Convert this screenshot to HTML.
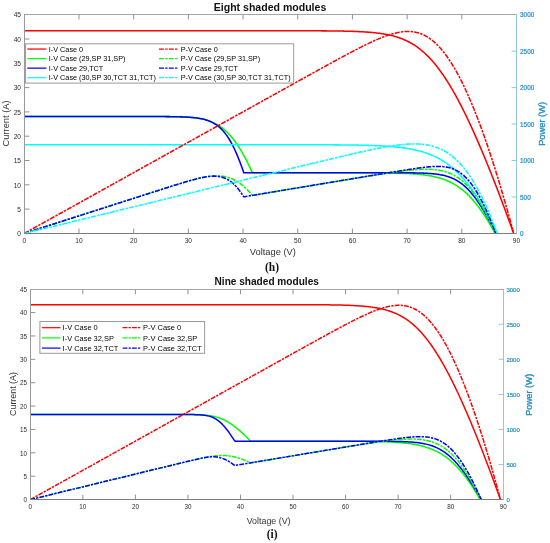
<!DOCTYPE html>
<html lang="en"><head><meta charset="utf-8"><title>Shaded modules I-V and P-V curves</title>
<style>
html,body{margin:0;padding:0;background:#fff;}
body{width:550px;height:543px;overflow:hidden;}
svg{display:block;}
text{white-space:pre;}
</style></head><body>
<svg width="550" height="543" viewBox="0 0 550 543">
<rect width="550" height="543" fill="#fff"/>
<g id="p1">
<g fill="none" stroke-width="1.55" stroke-linejoin="round">
<clipPath id="p1clip"><rect x="23.3" y="13.7" width="494.2" height="220.3"/></clipPath>
<g clip-path="url(#p1clip)">
<path d="M24.30,30.74 L25.39,30.74 L26.48,30.74 L27.57,30.74 L28.66,30.74 L29.75,30.74 L30.84,30.74 L31.93,30.74 L33.02,30.74 L34.11,30.74 L35.20,30.74 L36.29,30.74 L37.38,30.74 L38.47,30.74 L39.56,30.74 L40.65,30.74 L41.74,30.74 L42.83,30.74 L43.92,30.74 L45.01,30.74 L46.10,30.74 L47.19,30.74 L48.28,30.74 L49.37,30.74 L50.46,30.74 L51.55,30.74 L52.64,30.74 L53.73,30.74 L54.82,30.74 L55.91,30.74 L57.00,30.74 L58.09,30.74 L59.18,30.74 L60.27,30.74 L61.36,30.74 L62.45,30.74 L63.54,30.74 L64.63,30.74 L65.72,30.74 L66.81,30.74 L67.90,30.74 L68.99,30.74 L70.07,30.74 L71.16,30.74 L72.25,30.74 L73.34,30.74 L74.43,30.74 L75.52,30.74 L76.61,30.74 L77.70,30.74 L78.79,30.74 L79.88,30.74 L80.97,30.74 L82.06,30.74 L83.15,30.74 L84.24,30.74 L85.33,30.74 L86.42,30.74 L87.51,30.74 L88.60,30.74 L89.69,30.74 L90.78,30.74 L91.87,30.74 L92.96,30.74 L94.05,30.74 L95.14,30.74 L96.23,30.74 L97.32,30.74 L98.41,30.74 L99.50,30.74 L100.59,30.74 L101.68,30.74 L102.77,30.74 L103.86,30.74 L104.95,30.74 L106.04,30.74 L107.13,30.74 L108.22,30.74 L109.31,30.74 L110.40,30.74 L111.49,30.74 L112.58,30.74 L113.67,30.74 L114.76,30.74 L115.85,30.74 L116.94,30.74 L118.03,30.74 L119.12,30.74 L120.21,30.74 L121.30,30.74 L122.39,30.74 L123.48,30.74 L124.57,30.74 L125.66,30.74 L126.75,30.74 L127.84,30.74 L128.93,30.74 L130.02,30.74 L131.11,30.74 L132.20,30.74 L133.29,30.74 L134.38,30.74 L135.47,30.74 L136.56,30.74 L137.65,30.74 L138.74,30.74 L139.83,30.74 L140.92,30.74 L142.01,30.74 L143.10,30.74 L144.19,30.74 L145.28,30.74 L146.37,30.74 L147.46,30.74 L148.55,30.74 L149.64,30.74 L150.73,30.74 L151.82,30.74 L152.91,30.74 L154.00,30.74 L155.09,30.74 L156.18,30.74 L157.27,30.74 L158.36,30.74 L159.45,30.74 L160.54,30.74 L161.62,30.74 L162.71,30.74 L163.80,30.74 L164.89,30.74 L165.98,30.74 L167.07,30.74 L168.16,30.74 L169.25,30.74 L170.34,30.74 L171.43,30.74 L172.52,30.74 L173.61,30.74 L174.70,30.74 L175.79,30.74 L176.88,30.74 L177.97,30.74 L179.06,30.74 L180.15,30.74 L181.24,30.74 L182.33,30.74 L183.42,30.74 L184.51,30.74 L185.60,30.74 L186.69,30.74 L187.78,30.74 L188.87,30.74 L189.96,30.74 L191.05,30.74 L192.14,30.74 L193.23,30.74 L194.32,30.74 L195.41,30.74 L196.50,30.74 L197.59,30.74 L198.68,30.74 L199.77,30.74 L200.86,30.74 L201.95,30.74 L203.04,30.74 L204.13,30.74 L205.22,30.74 L206.31,30.74 L207.40,30.74 L208.49,30.74 L209.58,30.74 L210.67,30.74 L211.76,30.74 L212.85,30.74 L213.94,30.74 L215.03,30.74 L216.12,30.74 L217.21,30.74 L218.30,30.74 L219.39,30.74 L220.48,30.74 L221.57,30.74 L222.66,30.74 L223.75,30.74 L224.84,30.74 L225.93,30.74 L227.02,30.74 L228.11,30.74 L229.20,30.74 L230.29,30.74 L231.38,30.74 L232.47,30.74 L233.56,30.74 L234.65,30.74 L235.74,30.74 L236.83,30.74 L237.92,30.74 L239.01,30.74 L240.10,30.74 L241.19,30.74 L242.28,30.74 L243.37,30.74 L244.46,30.74 L245.55,30.74 L246.64,30.74 L247.73,30.74 L248.82,30.74 L249.91,30.74 L251.00,30.74 L252.08,30.74 L253.17,30.74 L254.26,30.74 L255.35,30.74 L256.44,30.74 L257.53,30.74 L258.62,30.74 L259.71,30.74 L260.80,30.74 L261.89,30.74 L262.98,30.74 L264.07,30.74 L265.16,30.74 L266.25,30.74 L267.34,30.74 L268.43,30.74 L269.52,30.74 L270.61,30.75 L271.70,30.75 L272.79,30.75 L273.88,30.75 L274.97,30.75 L276.06,30.75 L277.15,30.75 L278.24,30.75 L279.33,30.75 L280.42,30.75 L281.51,30.75 L282.60,30.75 L283.69,30.75 L284.78,30.75 L285.87,30.75 L286.96,30.76 L288.05,30.76 L289.14,30.76 L290.23,30.76 L291.32,30.76 L292.41,30.76 L293.50,30.76 L294.59,30.77 L295.68,30.77 L296.77,30.77 L297.86,30.77 L298.95,30.77 L300.04,30.77 L301.13,30.78 L302.22,30.78 L303.31,30.78 L304.40,30.78 L305.49,30.79 L306.58,30.79 L307.67,30.79 L308.76,30.80 L309.85,30.80 L310.94,30.80 L312.03,30.81 L313.12,30.81 L314.21,30.82 L315.30,30.82 L316.39,30.83 L317.48,30.83 L318.57,30.84 L319.66,30.84 L320.75,30.85 L321.84,30.86 L322.93,30.86 L324.02,30.87 L325.11,30.88 L326.20,30.89 L327.29,30.90 L328.38,30.91 L329.47,30.92 L330.56,30.93 L331.65,30.94 L332.74,30.95 L333.83,30.96 L334.92,30.98 L336.01,30.99 L337.10,31.01 L338.19,31.02 L339.28,31.04 L340.37,31.06 L341.46,31.08 L342.54,31.10 L343.63,31.12 L344.72,31.15 L345.81,31.17 L346.90,31.20 L347.99,31.22 L349.08,31.25 L350.17,31.28 L351.26,31.32 L352.35,31.35 L353.44,31.39 L354.53,31.43 L355.62,31.47 L356.71,31.51 L357.80,31.56 L358.89,31.61 L359.98,31.66 L361.07,31.72 L362.16,31.77 L363.25,31.84 L364.34,31.90 L365.43,31.97 L366.52,32.05 L367.61,32.12 L368.70,32.21 L369.79,32.29 L370.88,32.38 L371.97,32.48 L373.06,32.59 L374.15,32.69 L375.24,32.81 L376.33,32.93 L377.42,33.06 L378.51,33.20 L379.60,33.34 L380.69,33.49 L381.78,33.65 L382.87,33.82 L383.96,34.00 L385.05,34.19 L386.14,34.39 L387.23,34.60 L388.32,34.82 L389.41,35.06 L390.50,35.30 L391.59,35.56 L392.68,35.83 L393.77,36.12 L394.86,36.42 L395.95,36.74 L397.04,37.07 L398.13,37.42 L399.22,37.79 L400.31,38.18 L401.40,38.59 L402.49,39.01 L403.58,39.46 L404.67,39.93 L405.76,40.41 L406.85,40.93 L407.94,41.46 L409.03,42.02 L410.12,42.61 L411.21,43.22 L412.30,43.85 L413.39,44.52 L414.48,45.21 L415.57,45.93 L416.66,46.68 L417.75,47.45 L418.84,48.26 L419.93,49.10 L421.02,49.98 L422.11,50.88 L423.20,51.81 L424.29,52.78 L425.38,53.78 L426.47,54.82 L427.56,55.89 L428.65,56.99 L429.74,58.13 L430.83,59.31 L431.92,60.52 L433.01,61.76 L434.09,63.04 L435.18,64.36 L436.27,65.71 L437.36,67.09 L438.45,68.52 L439.54,69.97 L440.63,71.47 L441.72,72.99 L442.81,74.56 L443.90,76.15 L444.99,77.79 L446.08,79.45 L447.17,81.16 L448.26,82.89 L449.35,84.66 L450.44,86.46 L451.53,88.29 L452.62,90.16 L453.71,92.06 L454.80,93.99 L455.89,95.95 L456.98,97.95 L458.07,99.97 L459.16,102.02 L460.25,104.10 L461.34,106.22 L462.43,108.36 L463.52,110.52 L464.61,112.72 L465.70,114.94 L466.79,117.19 L467.88,119.47 L468.97,121.77 L470.06,124.10 L471.15,126.45 L472.24,128.83 L473.33,131.23 L474.42,133.65 L475.51,136.10 L476.60,138.57 L477.69,141.07 L478.78,143.58 L479.87,146.12 L480.96,148.67 L482.05,151.25 L483.14,153.85 L484.23,156.47 L485.32,159.10 L486.41,161.76 L487.50,164.43 L488.59,167.13 L489.68,169.84 L490.77,172.57 L491.86,175.31 L492.95,178.08 L494.04,180.86 L495.13,183.65 L496.22,186.47 L497.31,189.29 L498.40,192.14 L499.49,194.99 L500.58,197.87 L501.67,200.75 L502.76,203.66 L503.85,206.57 L504.94,209.50 L506.03,212.44 L507.12,215.40 L508.21,218.37 L509.30,221.35 L510.39,224.35 L511.48,227.35 L512.57,230.37 L513.66,233.40" stroke="#ff0000"/>
<path d="M24.30,116.52 L25.35,116.52 L26.40,116.52 L27.45,116.52 L28.49,116.52 L29.54,116.52 L30.59,116.52 L31.64,116.52 L32.69,116.52 L33.74,116.52 L34.78,116.52 L35.83,116.52 L36.88,116.52 L37.93,116.52 L38.98,116.52 L40.03,116.52 L41.08,116.52 L42.12,116.52 L43.17,116.52 L44.22,116.52 L45.27,116.52 L46.32,116.52 L47.37,116.52 L48.41,116.52 L49.46,116.52 L50.51,116.52 L51.56,116.52 L52.61,116.52 L53.66,116.52 L54.71,116.52 L55.75,116.52 L56.80,116.52 L57.85,116.52 L58.90,116.52 L59.95,116.52 L61.00,116.52 L62.04,116.52 L63.09,116.52 L64.14,116.52 L65.19,116.52 L66.24,116.52 L67.29,116.52 L68.34,116.52 L69.38,116.52 L70.43,116.52 L71.48,116.52 L72.53,116.52 L73.58,116.52 L74.63,116.52 L75.67,116.52 L76.72,116.52 L77.77,116.52 L78.82,116.52 L79.87,116.52 L80.92,116.52 L81.97,116.52 L83.01,116.52 L84.06,116.52 L85.11,116.52 L86.16,116.52 L87.21,116.52 L88.26,116.52 L89.30,116.52 L90.35,116.52 L91.40,116.52 L92.45,116.52 L93.50,116.52 L94.55,116.52 L95.60,116.52 L96.64,116.52 L97.69,116.52 L98.74,116.52 L99.79,116.52 L100.84,116.52 L101.89,116.52 L102.94,116.52 L103.98,116.52 L105.03,116.52 L106.08,116.52 L107.13,116.52 L108.18,116.52 L109.23,116.52 L110.27,116.52 L111.32,116.52 L112.37,116.52 L113.42,116.52 L114.47,116.52 L115.52,116.52 L116.57,116.52 L117.61,116.52 L118.66,116.52 L119.71,116.52 L120.76,116.52 L121.81,116.52 L122.86,116.52 L123.90,116.52 L124.95,116.52 L126.00,116.52 L127.05,116.52 L128.10,116.52 L129.15,116.52 L130.20,116.52 L131.24,116.52 L132.29,116.52 L133.34,116.52 L134.39,116.52 L135.44,116.52 L136.49,116.52 L137.53,116.52 L138.58,116.52 L139.63,116.52 L140.68,116.53 L141.73,116.53 L142.78,116.53 L143.83,116.53 L144.87,116.53 L145.92,116.53 L146.97,116.53 L148.02,116.53 L149.07,116.54 L150.12,116.54 L151.16,116.54 L152.21,116.54 L153.26,116.54 L154.31,116.55 L155.36,116.55 L156.41,116.55 L157.46,116.56 L158.50,116.56 L159.55,116.57 L160.60,116.57 L161.65,116.58 L162.70,116.58 L163.75,116.59 L164.79,116.60 L165.84,116.60 L166.89,116.61 L167.94,116.62 L168.99,116.63 L170.04,116.64 L171.09,116.66 L172.13,116.67 L173.18,116.69 L174.23,116.70 L175.28,116.72 L176.33,116.74 L177.38,116.77 L178.42,116.79 L179.47,116.82 L180.52,116.85 L181.57,116.89 L182.62,116.92 L183.67,116.96 L184.72,117.01 L185.76,117.06 L186.81,117.11 L187.86,117.17 L188.91,117.24 L189.96,117.31 L191.01,117.39 L192.05,117.48 L193.10,117.58 L194.15,117.69 L195.20,117.80 L196.25,117.93 L197.30,118.07 L198.35,118.23 L199.39,118.40 L200.44,118.58 L201.49,118.79 L202.54,119.01 L203.59,119.26 L204.64,119.53 L205.68,119.82 L206.73,120.15 L207.78,120.50 L208.83,120.88 L209.88,121.30 L210.93,121.76 L211.98,122.18 L213.02,122.62 L214.07,123.09 L215.12,123.60 L216.17,124.14 L217.22,124.72 L218.27,125.33 L219.31,125.98 L220.36,126.68 L221.41,127.41 L222.46,128.19 L223.51,129.02 L224.56,129.89 L225.61,130.81 L226.65,131.79 L227.70,132.81 L228.75,133.88 L229.80,135.01 L230.85,136.20 L231.90,137.43 L232.95,138.73 L233.99,140.08 L235.04,141.48 L236.09,142.94 L237.14,144.46 L238.19,146.04 L239.24,147.68 L240.28,149.37 L241.33,151.11 L242.38,152.92 L243.43,154.78 L244.48,156.69 L245.53,158.66 L246.58,160.69 L247.62,162.76 L248.67,164.89 L249.72,167.07 L250.77,169.30 L251.82,171.58 L252.87,172.65 L253.91,172.65 L254.96,172.65 L256.01,172.65 L257.06,172.65 L258.11,172.65 L259.16,172.65 L260.21,172.65 L261.25,172.65 L262.30,172.65 L263.35,172.65 L264.40,172.65 L265.45,172.65 L266.50,172.65 L267.54,172.65 L268.59,172.65 L269.64,172.65 L270.69,172.65 L271.74,172.65 L272.79,172.65 L273.84,172.65 L274.88,172.65 L275.93,172.65 L276.98,172.65 L278.03,172.65 L279.08,172.65 L280.13,172.65 L281.17,172.65 L282.22,172.65 L283.27,172.65 L284.32,172.65 L285.37,172.65 L286.42,172.65 L287.47,172.65 L288.51,172.65 L289.56,172.65 L290.61,172.65 L291.66,172.65 L292.71,172.65 L293.76,172.65 L294.80,172.65 L295.85,172.65 L296.90,172.65 L297.95,172.65 L299.00,172.65 L300.05,172.65 L301.10,172.65 L302.14,172.65 L303.19,172.65 L304.24,172.65 L305.29,172.65 L306.34,172.65 L307.39,172.65 L308.43,172.65 L309.48,172.65 L310.53,172.65 L311.58,172.65 L312.63,172.65 L313.68,172.65 L314.73,172.65 L315.77,172.65 L316.82,172.65 L317.87,172.65 L318.92,172.65 L319.97,172.66 L321.02,172.66 L322.06,172.66 L323.11,172.66 L324.16,172.66 L325.21,172.66 L326.26,172.66 L327.31,172.66 L328.36,172.66 L329.40,172.66 L330.45,172.66 L331.50,172.66 L332.55,172.66 L333.60,172.66 L334.65,172.66 L335.69,172.66 L336.74,172.66 L337.79,172.66 L338.84,172.67 L339.89,172.67 L340.94,172.67 L341.99,172.67 L343.03,172.67 L344.08,172.67 L345.13,172.67 L346.18,172.67 L347.23,172.68 L348.28,172.68 L349.32,172.68 L350.37,172.68 L351.42,172.68 L352.47,172.68 L353.52,172.69 L354.57,172.69 L355.62,172.69 L356.66,172.69 L357.71,172.70 L358.76,172.70 L359.81,172.70 L360.86,172.71 L361.91,172.71 L362.96,172.71 L364.00,172.72 L365.05,172.72 L366.10,172.73 L367.15,172.73 L368.20,172.74 L369.25,172.74 L370.29,172.75 L371.34,172.75 L372.39,172.76 L373.44,172.77 L374.49,172.77 L375.54,172.78 L376.59,172.79 L377.63,172.80 L378.68,172.81 L379.73,172.82 L380.78,172.83 L381.83,172.84 L382.88,172.85 L383.92,172.87 L384.97,172.88 L386.02,172.90 L387.07,172.91 L388.12,172.93 L389.17,172.95 L390.22,172.97 L391.26,172.99 L392.31,173.01 L393.36,173.03 L394.41,173.05 L395.46,173.08 L396.51,173.11 L397.55,173.13 L398.60,173.17 L399.65,173.20 L400.70,173.23 L401.75,173.27 L402.80,173.31 L403.85,173.35 L404.89,173.39 L405.94,173.44 L406.99,173.49 L408.04,173.54 L409.09,173.60 L410.14,173.66 L411.18,173.72 L412.23,173.79 L413.28,173.86 L414.33,173.94 L415.38,174.02 L416.43,174.10 L417.48,174.19 L418.52,174.29 L419.57,174.39 L420.62,174.50 L421.67,174.61 L422.72,174.74 L423.77,174.86 L424.81,175.00 L425.86,175.15 L426.91,175.30 L427.96,175.46 L429.01,175.63 L430.06,175.81 L431.11,176.01 L432.15,176.21 L433.20,176.42 L434.25,176.65 L435.30,176.89 L436.35,177.14 L437.40,177.41 L438.44,177.69 L439.49,177.99 L440.54,178.30 L441.59,178.63 L442.64,178.98 L443.69,179.35 L444.74,179.73 L445.78,180.14 L446.83,180.56 L447.88,181.01 L448.93,181.48 L449.98,181.97 L451.03,182.49 L452.07,183.03 L453.12,183.60 L454.17,184.19 L455.22,184.81 L456.27,185.46 L457.32,186.14 L458.37,186.85 L459.41,187.58 L460.46,188.35 L461.51,189.15 L462.56,189.98 L463.61,190.84 L464.66,191.74 L465.70,192.67 L466.75,193.64 L467.80,194.64 L468.85,195.68 L469.90,196.75 L470.95,197.85 L472.00,199.00 L473.04,200.18 L474.09,201.40 L475.14,202.65 L476.19,203.94 L477.24,205.27 L478.29,206.63 L479.33,208.04 L480.38,209.48 L481.43,210.95 L482.48,212.46 L483.53,214.01 L484.58,215.60 L485.63,217.22 L486.67,218.88 L487.72,220.58 L488.77,222.30 L489.82,224.07 L490.87,225.87 L491.92,227.70 L492.97,229.57 L494.01,231.47 L495.06,233.40" stroke="#00ff00"/>
<path d="M24.30,116.52 L25.35,116.52 L26.40,116.52 L27.45,116.52 L28.50,116.52 L29.55,116.52 L30.60,116.52 L31.65,116.52 L32.70,116.52 L33.75,116.52 L34.80,116.52 L35.85,116.52 L36.90,116.52 L37.95,116.52 L39.00,116.52 L40.05,116.52 L41.10,116.52 L42.15,116.52 L43.20,116.52 L44.25,116.52 L45.30,116.52 L46.35,116.52 L47.40,116.52 L48.45,116.52 L49.50,116.52 L50.55,116.52 L51.60,116.52 L52.65,116.52 L53.70,116.52 L54.76,116.52 L55.81,116.52 L56.86,116.52 L57.91,116.52 L58.96,116.52 L60.01,116.52 L61.06,116.52 L62.11,116.52 L63.16,116.52 L64.21,116.52 L65.26,116.52 L66.31,116.52 L67.36,116.52 L68.41,116.52 L69.46,116.52 L70.51,116.52 L71.56,116.52 L72.61,116.52 L73.66,116.52 L74.71,116.52 L75.76,116.52 L76.81,116.52 L77.86,116.52 L78.91,116.52 L79.96,116.52 L81.01,116.52 L82.06,116.52 L83.11,116.52 L84.16,116.52 L85.21,116.52 L86.26,116.52 L87.31,116.52 L88.36,116.52 L89.41,116.52 L90.46,116.52 L91.51,116.52 L92.56,116.52 L93.61,116.52 L94.66,116.52 L95.71,116.52 L96.76,116.52 L97.81,116.52 L98.86,116.52 L99.91,116.52 L100.96,116.52 L102.01,116.52 L103.06,116.52 L104.11,116.52 L105.16,116.52 L106.21,116.52 L107.26,116.52 L108.31,116.52 L109.36,116.52 L110.41,116.52 L111.46,116.52 L112.51,116.52 L113.56,116.52 L114.61,116.52 L115.67,116.52 L116.72,116.52 L117.77,116.52 L118.82,116.52 L119.87,116.52 L120.92,116.52 L121.97,116.52 L123.02,116.52 L124.07,116.52 L125.12,116.52 L126.17,116.52 L127.22,116.52 L128.27,116.52 L129.32,116.52 L130.37,116.52 L131.42,116.52 L132.47,116.52 L133.52,116.52 L134.57,116.52 L135.62,116.52 L136.67,116.52 L137.72,116.52 L138.77,116.52 L139.82,116.52 L140.87,116.53 L141.92,116.53 L142.97,116.53 L144.02,116.53 L145.07,116.53 L146.12,116.53 L147.17,116.53 L148.22,116.53 L149.27,116.54 L150.32,116.54 L151.37,116.54 L152.42,116.54 L153.47,116.54 L154.52,116.55 L155.57,116.55 L156.62,116.55 L157.67,116.56 L158.72,116.56 L159.77,116.57 L160.82,116.57 L161.87,116.58 L162.92,116.58 L163.97,116.59 L165.02,116.60 L166.07,116.60 L167.12,116.61 L168.17,116.62 L169.22,116.63 L170.27,116.65 L171.32,116.66 L172.37,116.67 L173.42,116.69 L174.47,116.71 L175.52,116.73 L176.58,116.75 L177.63,116.77 L178.68,116.80 L179.73,116.83 L180.78,116.86 L181.83,116.89 L182.88,116.93 L183.93,116.97 L184.98,117.02 L186.03,117.07 L187.08,117.13 L188.13,117.19 L189.18,117.26 L190.23,117.33 L191.28,117.42 L192.33,117.51 L193.38,117.61 L194.43,117.71 L195.48,117.84 L196.53,117.97 L197.58,118.11 L198.63,118.27 L199.68,118.45 L200.73,118.64 L201.78,118.85 L202.83,119.08 L203.88,119.33 L204.93,119.61 L205.98,119.91 L207.03,120.24 L208.08,120.60 L209.13,121.00 L210.18,121.43 L211.23,121.90 L212.28,122.41 L213.33,122.96 L214.38,123.56 L215.43,124.22 L216.48,124.93 L217.53,125.69 L218.58,126.52 L219.63,127.42 L220.68,128.38 L221.73,129.42 L222.78,130.53 L223.83,131.72 L224.88,133.00 L225.93,134.37 L226.98,135.82 L228.03,137.37 L229.08,139.01 L230.13,140.75 L231.18,142.59 L232.23,144.54 L233.28,146.59 L234.33,148.74 L235.38,151.00 L236.43,153.37 L237.49,155.85 L238.54,158.43 L239.59,161.12 L240.64,163.92 L241.69,166.82 L242.74,169.83 L243.79,172.65 L244.84,172.65 L245.89,172.65 L246.94,172.65 L247.99,172.65 L249.04,172.65 L250.09,172.65 L251.14,172.65 L252.19,172.65 L253.24,172.65 L254.29,172.65 L255.34,172.65 L256.39,172.65 L257.44,172.65 L258.49,172.65 L259.54,172.65 L260.59,172.65 L261.64,172.65 L262.69,172.65 L263.74,172.65 L264.79,172.65 L265.84,172.65 L266.89,172.65 L267.94,172.65 L268.99,172.65 L270.04,172.65 L271.09,172.65 L272.14,172.65 L273.19,172.65 L274.24,172.65 L275.29,172.65 L276.34,172.65 L277.39,172.65 L278.44,172.65 L279.49,172.65 L280.54,172.65 L281.59,172.65 L282.64,172.65 L283.69,172.65 L284.74,172.65 L285.79,172.65 L286.84,172.65 L287.89,172.65 L288.94,172.65 L289.99,172.65 L291.04,172.65 L292.09,172.65 L293.14,172.65 L294.19,172.65 L295.24,172.65 L296.29,172.65 L297.34,172.65 L298.40,172.65 L299.45,172.65 L300.50,172.65 L301.55,172.65 L302.60,172.65 L303.65,172.65 L304.70,172.65 L305.75,172.65 L306.80,172.65 L307.85,172.65 L308.90,172.65 L309.95,172.65 L311.00,172.65 L312.05,172.65 L313.10,172.65 L314.15,172.65 L315.20,172.65 L316.25,172.65 L317.30,172.65 L318.35,172.65 L319.40,172.65 L320.45,172.65 L321.50,172.65 L322.55,172.65 L323.60,172.65 L324.65,172.65 L325.70,172.65 L326.75,172.65 L327.80,172.65 L328.85,172.65 L329.90,172.65 L330.95,172.65 L332.00,172.65 L333.05,172.65 L334.10,172.65 L335.15,172.65 L336.20,172.65 L337.25,172.65 L338.30,172.65 L339.35,172.65 L340.40,172.65 L341.45,172.65 L342.50,172.65 L343.55,172.65 L344.60,172.65 L345.65,172.65 L346.70,172.65 L347.75,172.65 L348.80,172.65 L349.85,172.65 L350.90,172.65 L351.95,172.65 L353.00,172.65 L354.05,172.65 L355.10,172.65 L356.15,172.65 L357.20,172.65 L358.25,172.65 L359.31,172.65 L360.36,172.65 L361.41,172.65 L362.46,172.65 L363.51,172.65 L364.56,172.65 L365.61,172.65 L366.66,172.65 L367.71,172.65 L368.76,172.65 L369.81,172.65 L370.86,172.65 L371.91,172.65 L372.96,172.66 L374.01,172.66 L375.06,172.66 L376.11,172.66 L377.16,172.66 L378.21,172.66 L379.26,172.66 L380.31,172.66 L381.36,172.66 L382.41,172.66 L383.46,172.66 L384.51,172.67 L385.56,172.67 L386.61,172.67 L387.66,172.67 L388.71,172.67 L389.76,172.67 L390.81,172.68 L391.86,172.68 L392.91,172.68 L393.96,172.69 L395.01,172.69 L396.06,172.69 L397.11,172.70 L398.16,172.70 L399.21,172.71 L400.26,172.71 L401.31,172.72 L402.36,172.73 L403.41,172.73 L404.46,172.74 L405.51,172.75 L406.56,172.76 L407.61,172.77 L408.66,172.78 L409.71,172.79 L410.76,172.81 L411.81,172.82 L412.86,172.84 L413.91,172.86 L414.96,172.88 L416.01,172.90 L417.06,172.93 L418.11,172.96 L419.16,172.98 L420.22,173.02 L421.27,173.05 L422.32,173.09 L423.37,173.14 L424.42,173.18 L425.47,173.23 L426.52,173.29 L427.57,173.35 L428.62,173.42 L429.67,173.49 L430.72,173.57 L431.77,173.66 L432.82,173.76 L433.87,173.86 L434.92,173.98 L435.97,174.10 L437.02,174.24 L438.07,174.39 L439.12,174.55 L440.17,174.73 L441.22,174.92 L442.27,175.13 L443.32,175.36 L444.37,175.60 L445.42,175.87 L446.47,176.16 L447.52,176.47 L448.57,176.81 L449.62,177.17 L450.67,177.56 L451.72,177.99 L452.77,178.44 L453.82,178.92 L454.87,179.44 L455.92,180.00 L456.97,180.59 L458.02,181.22 L459.07,181.89 L460.12,182.61 L461.17,183.36 L462.22,184.16 L463.27,185.01 L464.32,185.90 L465.37,186.84 L466.42,187.82 L467.47,188.85 L468.52,189.93 L469.57,191.05 L470.62,192.23 L471.67,193.45 L472.72,194.72 L473.77,196.04 L474.82,197.40 L475.87,198.81 L476.92,200.27 L477.97,201.77 L479.02,203.32 L480.08,204.91 L481.13,206.54 L482.18,208.22 L483.23,209.94 L484.28,211.69 L485.33,213.49 L486.38,215.32 L487.43,217.20 L488.48,219.10 L489.53,221.05 L490.58,223.03 L491.63,225.04 L492.68,227.08 L493.73,229.16 L494.78,231.26 L495.83,233.40" stroke="#0000ff"/>
<path d="M24.30,144.70 L25.35,144.71 L26.41,144.71 L27.46,144.71 L28.51,144.71 L29.57,144.71 L30.62,144.71 L31.67,144.71 L32.72,144.71 L33.78,144.71 L34.83,144.71 L35.88,144.71 L36.94,144.71 L37.99,144.71 L39.04,144.71 L40.10,144.71 L41.15,144.71 L42.20,144.71 L43.26,144.71 L44.31,144.71 L45.36,144.71 L46.42,144.71 L47.47,144.71 L48.52,144.71 L49.57,144.71 L50.63,144.71 L51.68,144.71 L52.73,144.71 L53.79,144.71 L54.84,144.71 L55.89,144.71 L56.95,144.71 L58.00,144.71 L59.05,144.71 L60.11,144.71 L61.16,144.71 L62.21,144.71 L63.26,144.71 L64.32,144.71 L65.37,144.71 L66.42,144.71 L67.48,144.71 L68.53,144.71 L69.58,144.71 L70.64,144.71 L71.69,144.71 L72.74,144.71 L73.80,144.71 L74.85,144.71 L75.90,144.71 L76.95,144.71 L78.01,144.71 L79.06,144.71 L80.11,144.71 L81.17,144.71 L82.22,144.71 L83.27,144.71 L84.33,144.71 L85.38,144.71 L86.43,144.71 L87.49,144.71 L88.54,144.71 L89.59,144.71 L90.65,144.71 L91.70,144.71 L92.75,144.71 L93.80,144.71 L94.86,144.71 L95.91,144.71 L96.96,144.71 L98.02,144.71 L99.07,144.71 L100.12,144.71 L101.18,144.71 L102.23,144.71 L103.28,144.71 L104.34,144.71 L105.39,144.71 L106.44,144.71 L107.49,144.71 L108.55,144.71 L109.60,144.71 L110.65,144.71 L111.71,144.71 L112.76,144.71 L113.81,144.71 L114.87,144.71 L115.92,144.71 L116.97,144.71 L118.03,144.71 L119.08,144.71 L120.13,144.71 L121.18,144.71 L122.24,144.71 L123.29,144.71 L124.34,144.71 L125.40,144.71 L126.45,144.71 L127.50,144.71 L128.56,144.71 L129.61,144.71 L130.66,144.71 L131.72,144.71 L132.77,144.71 L133.82,144.71 L134.88,144.71 L135.93,144.71 L136.98,144.71 L138.03,144.71 L139.09,144.71 L140.14,144.71 L141.19,144.71 L142.25,144.71 L143.30,144.71 L144.35,144.71 L145.41,144.71 L146.46,144.71 L147.51,144.71 L148.57,144.71 L149.62,144.71 L150.67,144.71 L151.72,144.71 L152.78,144.71 L153.83,144.71 L154.88,144.71 L155.94,144.71 L156.99,144.71 L158.04,144.71 L159.10,144.71 L160.15,144.71 L161.20,144.71 L162.26,144.71 L163.31,144.71 L164.36,144.71 L165.41,144.71 L166.47,144.71 L167.52,144.71 L168.57,144.71 L169.63,144.71 L170.68,144.71 L171.73,144.71 L172.79,144.71 L173.84,144.71 L174.89,144.71 L175.95,144.71 L177.00,144.71 L178.05,144.71 L179.11,144.71 L180.16,144.71 L181.21,144.71 L182.26,144.71 L183.32,144.71 L184.37,144.71 L185.42,144.71 L186.48,144.71 L187.53,144.71 L188.58,144.71 L189.64,144.71 L190.69,144.71 L191.74,144.71 L192.80,144.71 L193.85,144.71 L194.90,144.71 L195.95,144.71 L197.01,144.71 L198.06,144.71 L199.11,144.71 L200.17,144.71 L201.22,144.71 L202.27,144.71 L203.33,144.71 L204.38,144.71 L205.43,144.71 L206.49,144.71 L207.54,144.71 L208.59,144.71 L209.64,144.71 L210.70,144.71 L211.75,144.71 L212.80,144.71 L213.86,144.71 L214.91,144.71 L215.96,144.71 L217.02,144.71 L218.07,144.71 L219.12,144.71 L220.18,144.71 L221.23,144.71 L222.28,144.71 L223.34,144.71 L224.39,144.71 L225.44,144.71 L226.49,144.71 L227.55,144.71 L228.60,144.71 L229.65,144.71 L230.71,144.71 L231.76,144.71 L232.81,144.71 L233.87,144.71 L234.92,144.71 L235.97,144.71 L237.03,144.71 L238.08,144.71 L239.13,144.71 L240.18,144.71 L241.24,144.71 L242.29,144.71 L243.34,144.71 L244.40,144.71 L245.45,144.71 L246.50,144.71 L247.56,144.71 L248.61,144.71 L249.66,144.71 L250.72,144.71 L251.77,144.71 L252.82,144.71 L253.87,144.71 L254.93,144.71 L255.98,144.71 L257.03,144.71 L258.09,144.71 L259.14,144.71 L260.19,144.71 L261.25,144.71 L262.30,144.71 L263.35,144.71 L264.41,144.71 L265.46,144.71 L266.51,144.71 L267.57,144.71 L268.62,144.71 L269.67,144.71 L270.72,144.71 L271.78,144.71 L272.83,144.71 L273.88,144.72 L274.94,144.72 L275.99,144.72 L277.04,144.72 L278.10,144.72 L279.15,144.72 L280.20,144.72 L281.26,144.72 L282.31,144.72 L283.36,144.72 L284.41,144.72 L285.47,144.72 L286.52,144.72 L287.57,144.72 L288.63,144.72 L289.68,144.73 L290.73,144.73 L291.79,144.73 L292.84,144.73 L293.89,144.73 L294.95,144.73 L296.00,144.73 L297.05,144.73 L298.10,144.73 L299.16,144.74 L300.21,144.74 L301.26,144.74 L302.32,144.74 L303.37,144.74 L304.42,144.74 L305.48,144.75 L306.53,144.75 L307.58,144.75 L308.64,144.75 L309.69,144.75 L310.74,144.76 L311.80,144.76 L312.85,144.76 L313.90,144.77 L314.95,144.77 L316.01,144.77 L317.06,144.77 L318.11,144.78 L319.17,144.78 L320.22,144.78 L321.27,144.79 L322.33,144.79 L323.38,144.80 L324.43,144.80 L325.49,144.81 L326.54,144.81 L327.59,144.82 L328.64,144.82 L329.70,144.83 L330.75,144.83 L331.80,144.84 L332.86,144.85 L333.91,144.85 L334.96,144.86 L336.02,144.87 L337.07,144.87 L338.12,144.88 L339.18,144.89 L340.23,144.90 L341.28,144.91 L342.34,144.92 L343.39,144.93 L344.44,144.94 L345.49,144.95 L346.55,144.96 L347.60,144.98 L348.65,144.99 L349.71,145.00 L350.76,145.02 L351.81,145.03 L352.87,145.05 L353.92,145.06 L354.97,145.08 L356.03,145.10 L357.08,145.12 L358.13,145.14 L359.18,145.16 L360.24,145.18 L361.29,145.20 L362.34,145.23 L363.40,145.25 L364.45,145.28 L365.50,145.30 L366.56,145.33 L367.61,145.36 L368.66,145.39 L369.72,145.43 L370.77,145.46 L371.82,145.50 L372.87,145.54 L373.93,145.57 L374.98,145.62 L376.03,145.66 L377.09,145.71 L378.14,145.75 L379.19,145.80 L380.25,145.86 L381.30,145.91 L382.35,145.97 L383.41,146.03 L384.46,146.09 L385.51,146.16 L386.57,146.22 L387.62,146.30 L388.67,146.37 L389.72,146.45 L390.78,146.53 L391.83,146.62 L392.88,146.71 L393.94,146.80 L394.99,146.90 L396.04,147.01 L397.10,147.11 L398.15,147.23 L399.20,147.35 L400.26,147.47 L401.31,147.60 L402.36,147.73 L403.41,147.87 L404.47,148.02 L405.52,148.18 L406.57,148.34 L407.63,148.51 L408.68,148.68 L409.73,148.87 L410.79,149.06 L411.84,149.26 L412.89,149.47 L413.95,149.68 L415.00,149.91 L416.05,150.15 L417.10,150.40 L418.16,150.66 L419.21,150.93 L420.26,151.21 L421.32,151.50 L422.37,151.81 L423.42,152.12 L424.48,152.46 L425.53,152.80 L426.58,153.16 L427.64,153.53 L428.69,153.92 L429.74,154.33 L430.80,154.75 L431.85,155.19 L432.90,155.64 L433.95,156.11 L435.01,156.60 L436.06,157.11 L437.11,157.64 L438.17,158.19 L439.22,158.76 L440.27,159.35 L441.33,159.96 L442.38,160.59 L443.43,161.25 L444.49,161.93 L445.54,162.63 L446.59,163.36 L447.64,164.11 L448.70,164.89 L449.75,165.69 L450.80,166.52 L451.86,167.38 L452.91,168.26 L453.96,169.17 L455.02,170.11 L456.07,171.08 L457.12,172.07 L458.18,173.10 L459.23,174.15 L460.28,175.24 L461.33,176.35 L462.39,177.50 L463.44,178.68 L464.49,179.89 L465.55,181.13 L466.60,182.40 L467.65,183.70 L468.71,185.04 L469.76,186.41 L470.81,187.81 L471.87,189.25 L472.92,190.71 L473.97,192.21 L475.03,193.75 L476.08,195.31 L477.13,196.91 L478.18,198.54 L479.24,200.21 L480.29,201.90 L481.34,203.63 L482.40,205.39 L483.45,207.19 L484.50,209.02 L485.56,210.88 L486.61,212.77 L487.66,214.69 L488.72,216.65 L489.77,218.63 L490.82,220.65 L491.87,222.70 L492.93,224.78 L493.98,226.89 L495.03,229.03 L496.09,231.20 L497.14,233.40" stroke="#00ffff"/>
<path d="M24.30,233.40 L25.39,232.79 L26.48,232.19 L27.57,231.58 L28.66,230.98 L29.75,230.37 L30.84,229.77 L31.93,229.16 L33.02,228.55 L34.11,227.95 L35.20,227.34 L36.29,226.74 L37.38,226.13 L38.47,225.52 L39.56,224.92 L40.65,224.31 L41.74,223.71 L42.83,223.10 L43.92,222.50 L45.01,221.89 L46.10,221.28 L47.19,220.68 L48.28,220.07 L49.37,219.47 L50.46,218.86 L51.55,218.25 L52.64,217.65 L53.73,217.04 L54.82,216.44 L55.91,215.83 L57.00,215.23 L58.09,214.62 L59.18,214.01 L60.27,213.41 L61.36,212.80 L62.45,212.20 L63.54,211.59 L64.63,210.98 L65.72,210.38 L66.81,209.77 L67.90,209.17 L68.99,208.56 L70.07,207.96 L71.16,207.35 L72.25,206.74 L73.34,206.14 L74.43,205.53 L75.52,204.93 L76.61,204.32 L77.70,203.71 L78.79,203.11 L79.88,202.50 L80.97,201.90 L82.06,201.29 L83.15,200.69 L84.24,200.08 L85.33,199.47 L86.42,198.87 L87.51,198.26 L88.60,197.66 L89.69,197.05 L90.78,196.45 L91.87,195.84 L92.96,195.23 L94.05,194.63 L95.14,194.02 L96.23,193.42 L97.32,192.81 L98.41,192.20 L99.50,191.60 L100.59,190.99 L101.68,190.39 L102.77,189.78 L103.86,189.18 L104.95,188.57 L106.04,187.96 L107.13,187.36 L108.22,186.75 L109.31,186.15 L110.40,185.54 L111.49,184.93 L112.58,184.33 L113.67,183.72 L114.76,183.12 L115.85,182.51 L116.94,181.91 L118.03,181.30 L119.12,180.69 L120.21,180.09 L121.30,179.48 L122.39,178.88 L123.48,178.27 L124.57,177.66 L125.66,177.06 L126.75,176.45 L127.84,175.85 L128.93,175.24 L130.02,174.64 L131.11,174.03 L132.20,173.42 L133.29,172.82 L134.38,172.21 L135.47,171.61 L136.56,171.00 L137.65,170.39 L138.74,169.79 L139.83,169.18 L140.92,168.58 L142.01,167.97 L143.10,167.37 L144.19,166.76 L145.28,166.15 L146.37,165.55 L147.46,164.94 L148.55,164.34 L149.64,163.73 L150.73,163.12 L151.82,162.52 L152.91,161.91 L154.00,161.31 L155.09,160.70 L156.18,160.10 L157.27,159.49 L158.36,158.88 L159.45,158.28 L160.54,157.67 L161.62,157.07 L162.71,156.46 L163.80,155.86 L164.89,155.25 L165.98,154.64 L167.07,154.04 L168.16,153.43 L169.25,152.83 L170.34,152.22 L171.43,151.61 L172.52,151.01 L173.61,150.40 L174.70,149.80 L175.79,149.19 L176.88,148.59 L177.97,147.98 L179.06,147.37 L180.15,146.77 L181.24,146.16 L182.33,145.56 L183.42,144.95 L184.51,144.34 L185.60,143.74 L186.69,143.13 L187.78,142.53 L188.87,141.92 L189.96,141.32 L191.05,140.71 L192.14,140.10 L193.23,139.50 L194.32,138.89 L195.41,138.29 L196.50,137.68 L197.59,137.07 L198.68,136.47 L199.77,135.86 L200.86,135.26 L201.95,134.65 L203.04,134.05 L204.13,133.44 L205.22,132.83 L206.31,132.23 L207.40,131.62 L208.49,131.02 L209.58,130.41 L210.67,129.81 L211.76,129.20 L212.85,128.59 L213.94,127.99 L215.03,127.38 L216.12,126.78 L217.21,126.17 L218.30,125.56 L219.39,124.96 L220.48,124.35 L221.57,123.75 L222.66,123.14 L223.75,122.54 L224.84,121.93 L225.93,121.32 L227.02,120.72 L228.11,120.11 L229.20,119.51 L230.29,118.90 L231.38,118.29 L232.47,117.69 L233.56,117.08 L234.65,116.48 L235.74,115.87 L236.83,115.27 L237.92,114.66 L239.01,114.05 L240.10,113.45 L241.19,112.84 L242.28,112.24 L243.37,111.63 L244.46,111.03 L245.55,110.42 L246.64,109.81 L247.73,109.21 L248.82,108.60 L249.91,108.00 L251.00,107.39 L252.08,106.79 L253.17,106.18 L254.26,105.57 L255.35,104.97 L256.44,104.36 L257.53,103.76 L258.62,103.15 L259.71,102.55 L260.80,101.94 L261.89,101.33 L262.98,100.73 L264.07,100.12 L265.16,99.52 L266.25,98.91 L267.34,98.31 L268.43,97.70 L269.52,97.10 L270.61,96.49 L271.70,95.88 L272.79,95.28 L273.88,94.67 L274.97,94.07 L276.06,93.46 L277.15,92.86 L278.24,92.25 L279.33,91.65 L280.42,91.04 L281.51,90.44 L282.60,89.83 L283.69,89.23 L284.78,88.62 L285.87,88.02 L286.96,87.41 L288.05,86.81 L289.14,86.20 L290.23,85.60 L291.32,84.99 L292.41,84.39 L293.50,83.78 L294.59,83.18 L295.68,82.57 L296.77,81.97 L297.86,81.36 L298.95,80.76 L300.04,80.16 L301.13,79.55 L302.22,78.95 L303.31,78.34 L304.40,77.74 L305.49,77.14 L306.58,76.53 L307.67,75.93 L308.76,75.33 L309.85,74.72 L310.94,74.12 L312.03,73.52 L313.12,72.92 L314.21,72.31 L315.30,71.71 L316.39,71.11 L317.48,70.51 L318.57,69.91 L319.66,69.31 L320.75,68.71 L321.84,68.11 L322.93,67.51 L324.02,66.91 L325.11,66.31 L326.20,65.71 L327.29,65.11 L328.38,64.52 L329.47,63.92 L330.56,63.32 L331.65,62.73 L332.74,62.13 L333.83,61.54 L334.92,60.95 L336.01,60.35 L337.10,59.76 L338.19,59.17 L339.28,58.58 L340.37,57.99 L341.46,57.40 L342.54,56.82 L343.63,56.23 L344.72,55.65 L345.81,55.06 L346.90,54.48 L347.99,53.90 L349.08,53.32 L350.17,52.75 L351.26,52.17 L352.35,51.60 L353.44,51.03 L354.53,50.46 L355.62,49.89 L356.71,49.33 L357.80,48.77 L358.89,48.21 L359.98,47.66 L361.07,47.11 L362.16,46.56 L363.25,46.01 L364.34,45.47 L365.43,44.93 L366.52,44.40 L367.61,43.87 L368.70,43.35 L369.79,42.83 L370.88,42.31 L371.97,41.81 L373.06,41.30 L374.15,40.81 L375.24,40.32 L376.33,39.84 L377.42,39.36 L378.51,38.90 L379.60,38.44 L380.69,37.99 L381.78,37.55 L382.87,37.12 L383.96,36.70 L385.05,36.29 L386.14,35.89 L387.23,35.51 L388.32,35.13 L389.41,34.77 L390.50,34.43 L391.59,34.10 L392.68,33.78 L393.77,33.48 L394.86,33.20 L395.95,32.93 L397.04,32.69 L398.13,32.46 L399.22,32.25 L400.31,32.07 L401.40,31.90 L402.49,31.76 L403.58,31.65 L404.67,31.55 L405.76,31.49 L406.85,31.45 L407.94,31.44 L409.03,31.45 L410.12,31.50 L411.21,31.58 L412.30,31.68 L413.39,31.83 L414.48,32.00 L415.57,32.21 L416.66,32.46 L417.75,32.74 L418.84,33.06 L419.93,33.42 L421.02,33.81 L422.11,34.25 L423.20,34.73 L424.29,35.25 L425.38,35.81 L426.47,36.42 L427.56,37.07 L428.65,37.76 L429.74,38.50 L430.83,39.28 L431.92,40.12 L433.01,40.99 L434.09,41.92 L435.18,42.89 L436.27,43.91 L437.36,44.98 L438.45,46.10 L439.54,47.27 L440.63,48.48 L441.72,49.75 L442.81,51.06 L443.90,52.43 L444.99,53.84 L446.08,55.31 L447.17,56.82 L448.26,58.38 L449.35,59.99 L450.44,61.65 L451.53,63.36 L452.62,65.12 L453.71,66.93 L454.80,68.79 L455.89,70.69 L456.98,72.65 L458.07,74.65 L459.16,76.70 L460.25,78.80 L461.34,80.94 L462.43,83.13 L463.52,85.37 L464.61,87.66 L465.70,89.99 L466.79,92.37 L467.88,94.79 L468.97,97.25 L470.06,99.77 L471.15,102.32 L472.24,104.92 L473.33,107.57 L474.42,110.26 L475.51,112.99 L476.60,115.76 L477.69,118.58 L478.78,121.44 L479.87,124.34 L480.96,127.28 L482.05,130.26 L483.14,133.28 L484.23,136.35 L485.32,139.45 L486.41,142.60 L487.50,145.78 L488.59,149.01 L489.68,152.27 L490.77,155.57 L491.86,158.91 L492.95,162.29 L494.04,165.70 L495.13,169.16 L496.22,172.65 L497.31,176.18 L498.40,179.74 L499.49,183.34 L500.58,186.98 L501.67,190.66 L502.76,194.37 L503.85,198.11 L504.94,201.90 L506.03,205.71 L507.12,209.56 L508.21,213.45 L509.30,217.37 L510.39,221.33 L511.48,225.32 L512.57,229.34 L513.66,233.40" stroke="#ff0000" stroke-dasharray="5 1.2 2.4 1.2"/>
<path d="M24.30,233.40 L25.35,233.06 L26.40,232.73 L27.45,232.39 L28.49,232.06 L29.54,231.72 L30.59,231.38 L31.64,231.05 L32.69,230.71 L33.74,230.37 L34.78,230.04 L35.83,229.70 L36.88,229.37 L37.93,229.03 L38.98,228.69 L40.03,228.36 L41.08,228.02 L42.12,227.69 L43.17,227.35 L44.22,227.01 L45.27,226.68 L46.32,226.34 L47.37,226.01 L48.41,225.67 L49.46,225.33 L50.51,225.00 L51.56,224.66 L52.61,224.32 L53.66,223.99 L54.71,223.65 L55.75,223.32 L56.80,222.98 L57.85,222.64 L58.90,222.31 L59.95,221.97 L61.00,221.64 L62.04,221.30 L63.09,220.96 L64.14,220.63 L65.19,220.29 L66.24,219.96 L67.29,219.62 L68.34,219.28 L69.38,218.95 L70.43,218.61 L71.48,218.27 L72.53,217.94 L73.58,217.60 L74.63,217.27 L75.67,216.93 L76.72,216.59 L77.77,216.26 L78.82,215.92 L79.87,215.59 L80.92,215.25 L81.97,214.91 L83.01,214.58 L84.06,214.24 L85.11,213.90 L86.16,213.57 L87.21,213.23 L88.26,212.90 L89.30,212.56 L90.35,212.22 L91.40,211.89 L92.45,211.55 L93.50,211.22 L94.55,210.88 L95.60,210.54 L96.64,210.21 L97.69,209.87 L98.74,209.54 L99.79,209.20 L100.84,208.86 L101.89,208.53 L102.94,208.19 L103.98,207.85 L105.03,207.52 L106.08,207.18 L107.13,206.85 L108.18,206.51 L109.23,206.17 L110.27,205.84 L111.32,205.50 L112.37,205.17 L113.42,204.83 L114.47,204.49 L115.52,204.16 L116.57,203.82 L117.61,203.49 L118.66,203.15 L119.71,202.81 L120.76,202.48 L121.81,202.14 L122.86,201.80 L123.90,201.47 L124.95,201.13 L126.00,200.80 L127.05,200.46 L128.10,200.12 L129.15,199.79 L130.20,199.45 L131.24,199.12 L132.29,198.78 L133.34,198.44 L134.39,198.11 L135.44,197.77 L136.49,197.44 L137.53,197.10 L138.58,196.76 L139.63,196.43 L140.68,196.09 L141.73,195.76 L142.78,195.42 L143.83,195.09 L144.87,194.75 L145.92,194.41 L146.97,194.08 L148.02,193.74 L149.07,193.41 L150.12,193.07 L151.16,192.74 L152.21,192.40 L153.26,192.07 L154.31,191.73 L155.36,191.40 L156.41,191.06 L157.46,190.73 L158.50,190.39 L159.55,190.06 L160.60,189.72 L161.65,189.39 L162.70,189.06 L163.75,188.72 L164.79,188.39 L165.84,188.06 L166.89,187.72 L167.94,187.39 L168.99,187.06 L170.04,186.73 L171.09,186.40 L172.13,186.07 L173.18,185.74 L174.23,185.41 L175.28,185.08 L176.33,184.76 L177.38,184.43 L178.42,184.11 L179.47,183.78 L180.52,183.46 L181.57,183.14 L182.62,182.82 L183.67,182.50 L184.72,182.19 L185.76,181.88 L186.81,181.57 L187.86,181.26 L188.91,180.96 L189.96,180.65 L191.01,180.36 L192.05,180.06 L193.10,179.78 L194.15,179.49 L195.20,179.21 L196.25,178.94 L197.30,178.68 L198.35,178.42 L199.39,178.17 L200.44,177.93 L201.49,177.70 L202.54,177.48 L203.59,177.27 L204.64,177.08 L205.68,176.90 L206.73,176.73 L207.78,176.58 L208.83,176.45 L209.88,176.34 L210.93,176.25 L211.98,176.15 L213.02,176.06 L214.07,175.98 L215.12,175.93 L216.17,175.90 L217.22,175.89 L218.27,175.91 L219.31,175.94 L220.36,176.01 L221.41,176.10 L222.46,176.22 L223.51,176.37 L224.56,176.55 L225.61,176.76 L226.65,177.00 L227.70,177.28 L228.75,177.60 L229.80,177.94 L230.85,178.33 L231.90,178.76 L232.95,179.22 L233.99,179.72 L235.04,180.27 L236.09,180.85 L237.14,181.48 L238.19,182.15 L239.24,182.86 L240.28,183.62 L241.33,184.42 L242.38,185.26 L243.43,186.15 L244.48,187.08 L245.53,188.05 L246.58,189.07 L247.62,190.13 L248.67,191.24 L249.72,192.39 L250.77,193.58 L251.82,194.82 L252.87,195.32 L253.91,195.14 L254.96,194.97 L256.01,194.79 L257.06,194.62 L258.11,194.44 L259.16,194.27 L260.21,194.09 L261.25,193.92 L262.30,193.74 L263.35,193.57 L264.40,193.39 L265.45,193.22 L266.50,193.04 L267.54,192.87 L268.59,192.70 L269.64,192.52 L270.69,192.35 L271.74,192.17 L272.79,192.00 L273.84,191.82 L274.88,191.65 L275.93,191.47 L276.98,191.30 L278.03,191.12 L279.08,190.95 L280.13,190.77 L281.17,190.60 L282.22,190.42 L283.27,190.25 L284.32,190.07 L285.37,189.90 L286.42,189.73 L287.47,189.55 L288.51,189.38 L289.56,189.20 L290.61,189.03 L291.66,188.85 L292.71,188.68 L293.76,188.50 L294.80,188.33 L295.85,188.15 L296.90,187.98 L297.95,187.80 L299.00,187.63 L300.05,187.46 L301.10,187.28 L302.14,187.11 L303.19,186.93 L304.24,186.76 L305.29,186.58 L306.34,186.41 L307.39,186.23 L308.43,186.06 L309.48,185.88 L310.53,185.71 L311.58,185.53 L312.63,185.36 L313.68,185.19 L314.73,185.01 L315.77,184.84 L316.82,184.66 L317.87,184.49 L318.92,184.31 L319.97,184.14 L321.02,183.96 L322.06,183.79 L323.11,183.62 L324.16,183.44 L325.21,183.27 L326.26,183.09 L327.31,182.92 L328.36,182.74 L329.40,182.57 L330.45,182.40 L331.50,182.22 L332.55,182.05 L333.60,181.87 L334.65,181.70 L335.69,181.52 L336.74,181.35 L337.79,181.18 L338.84,181.00 L339.89,180.83 L340.94,180.66 L341.99,180.48 L343.03,180.31 L344.08,180.13 L345.13,179.96 L346.18,179.79 L347.23,179.61 L348.28,179.44 L349.32,179.27 L350.37,179.10 L351.42,178.92 L352.47,178.75 L353.52,178.58 L354.57,178.40 L355.62,178.23 L356.66,178.06 L357.71,177.89 L358.76,177.72 L359.81,177.54 L360.86,177.37 L361.91,177.20 L362.96,177.03 L364.00,176.86 L365.05,176.69 L366.10,176.52 L367.15,176.35 L368.20,176.18 L369.25,176.01 L370.29,175.84 L371.34,175.67 L372.39,175.50 L373.44,175.34 L374.49,175.17 L375.54,175.00 L376.59,174.84 L377.63,174.67 L378.68,174.51 L379.73,174.34 L380.78,174.18 L381.83,174.02 L382.88,173.85 L383.92,173.69 L384.97,173.53 L386.02,173.37 L387.07,173.21 L388.12,173.06 L389.17,172.90 L390.22,172.75 L391.26,172.59 L392.31,172.44 L393.36,172.29 L394.41,172.14 L395.46,171.99 L396.51,171.85 L397.55,171.70 L398.60,171.56 L399.65,171.42 L400.70,171.28 L401.75,171.15 L402.80,171.02 L403.85,170.89 L404.89,170.76 L405.94,170.64 L406.99,170.52 L408.04,170.40 L409.09,170.29 L410.14,170.18 L411.18,170.07 L412.23,169.97 L413.28,169.88 L414.33,169.79 L415.38,169.70 L416.43,169.63 L417.48,169.55 L418.52,169.49 L419.57,169.43 L420.62,169.37 L421.67,169.33 L422.72,169.29 L423.77,169.27 L424.81,169.25 L425.86,169.24 L426.91,169.24 L427.96,169.25 L429.01,169.28 L430.06,169.31 L431.11,169.36 L432.15,169.42 L433.20,169.50 L434.25,169.59 L435.30,169.70 L436.35,169.82 L437.40,169.96 L438.44,170.12 L439.49,170.30 L440.54,170.50 L441.59,170.72 L442.64,170.96 L443.69,171.22 L444.74,171.51 L445.78,171.83 L446.83,172.17 L447.88,172.54 L448.93,172.93 L449.98,173.36 L451.03,173.82 L452.07,174.30 L453.12,174.83 L454.17,175.38 L455.22,175.97 L456.27,176.60 L457.32,177.27 L458.37,177.98 L459.41,178.72 L460.46,179.51 L461.51,180.34 L462.56,181.21 L463.61,182.12 L464.66,183.09 L465.70,184.09 L466.75,185.15 L467.80,186.25 L468.85,187.40 L469.90,188.60 L470.95,189.85 L472.00,191.16 L473.04,192.51 L474.09,193.92 L475.14,195.38 L476.19,196.89 L477.24,198.45 L478.29,200.07 L479.33,201.74 L480.38,203.47 L481.43,205.25 L482.48,207.09 L483.53,208.98 L484.58,210.93 L485.63,212.93 L486.67,214.99 L487.72,217.10 L488.77,219.27 L489.82,221.49 L490.87,223.76 L491.92,226.09 L492.97,228.47 L494.01,230.91 L495.06,233.40" stroke="#00ff00" stroke-dasharray="5 1.2 2.4 1.2"/>
<path d="M24.30,233.40 L25.35,233.06 L26.40,232.73 L27.45,232.39 L28.50,232.05 L29.55,231.72 L30.60,231.38 L31.65,231.04 L32.70,230.71 L33.75,230.37 L34.80,230.03 L35.85,229.70 L36.90,229.36 L37.95,229.02 L39.00,228.69 L40.05,228.35 L41.10,228.01 L42.15,227.68 L43.20,227.34 L44.25,227.00 L45.30,226.67 L46.35,226.33 L47.40,225.99 L48.45,225.66 L49.50,225.32 L50.55,224.98 L51.60,224.65 L52.65,224.31 L53.70,223.97 L54.76,223.64 L55.81,223.30 L56.86,222.96 L57.91,222.63 L58.96,222.29 L60.01,221.95 L61.06,221.62 L62.11,221.28 L63.16,220.94 L64.21,220.61 L65.26,220.27 L66.31,219.93 L67.36,219.60 L68.41,219.26 L69.46,218.92 L70.51,218.59 L71.56,218.25 L72.61,217.91 L73.66,217.58 L74.71,217.24 L75.76,216.90 L76.81,216.57 L77.86,216.23 L78.91,215.89 L79.96,215.56 L81.01,215.22 L82.06,214.88 L83.11,214.55 L84.16,214.21 L85.21,213.87 L86.26,213.54 L87.31,213.20 L88.36,212.86 L89.41,212.53 L90.46,212.19 L91.51,211.85 L92.56,211.52 L93.61,211.18 L94.66,210.84 L95.71,210.51 L96.76,210.17 L97.81,209.83 L98.86,209.50 L99.91,209.16 L100.96,208.82 L102.01,208.49 L103.06,208.15 L104.11,207.81 L105.16,207.48 L106.21,207.14 L107.26,206.80 L108.31,206.47 L109.36,206.13 L110.41,205.79 L111.46,205.46 L112.51,205.12 L113.56,204.78 L114.61,204.45 L115.67,204.11 L116.72,203.77 L117.77,203.44 L118.82,203.10 L119.87,202.76 L120.92,202.43 L121.97,202.09 L123.02,201.75 L124.07,201.42 L125.12,201.08 L126.17,200.74 L127.22,200.41 L128.27,200.07 L129.32,199.73 L130.37,199.40 L131.42,199.06 L132.47,198.72 L133.52,198.39 L134.57,198.05 L135.62,197.71 L136.67,197.38 L137.72,197.04 L138.77,196.71 L139.82,196.37 L140.87,196.03 L141.92,195.70 L142.97,195.36 L144.02,195.02 L145.07,194.69 L146.12,194.35 L147.17,194.01 L148.22,193.68 L149.27,193.34 L150.32,193.01 L151.37,192.67 L152.42,192.34 L153.47,192.00 L154.52,191.66 L155.57,191.33 L156.62,190.99 L157.67,190.66 L158.72,190.32 L159.77,189.99 L160.82,189.65 L161.87,189.32 L162.92,188.98 L163.97,188.65 L165.02,188.32 L166.07,187.98 L167.12,187.65 L168.17,187.32 L169.22,186.99 L170.27,186.65 L171.32,186.32 L172.37,185.99 L173.42,185.66 L174.47,185.33 L175.52,185.01 L176.58,184.68 L177.63,184.35 L178.68,184.03 L179.73,183.71 L180.78,183.38 L181.83,183.06 L182.88,182.74 L183.93,182.43 L184.98,182.11 L186.03,181.80 L187.08,181.49 L188.13,181.18 L189.18,180.88 L190.23,180.58 L191.28,180.28 L192.33,179.99 L193.38,179.70 L194.43,179.42 L195.48,179.14 L196.53,178.87 L197.58,178.61 L198.63,178.35 L199.68,178.10 L200.73,177.87 L201.78,177.64 L202.83,177.42 L203.88,177.22 L204.93,177.02 L205.98,176.85 L207.03,176.69 L208.08,176.54 L209.13,176.42 L210.18,176.31 L211.23,176.23 L212.28,176.17 L213.33,176.14 L214.38,176.14 L215.43,176.16 L216.48,176.22 L217.53,176.32 L218.58,176.45 L219.63,176.62 L220.68,176.83 L221.73,177.09 L222.78,177.40 L223.83,177.76 L224.88,178.17 L225.93,178.63 L226.98,179.15 L228.03,179.74 L229.08,180.38 L230.13,181.09 L231.18,181.87 L232.23,182.72 L233.28,183.64 L234.33,184.63 L235.38,185.70 L236.43,186.84 L237.49,188.05 L238.54,189.35 L239.59,190.72 L240.64,192.17 L241.69,193.70 L242.74,195.32 L243.79,196.83 L244.84,196.65 L245.89,196.48 L246.94,196.30 L247.99,196.13 L249.04,195.95 L250.09,195.78 L251.14,195.60 L252.19,195.43 L253.24,195.25 L254.29,195.08 L255.34,194.90 L256.39,194.73 L257.44,194.55 L258.49,194.38 L259.54,194.20 L260.59,194.03 L261.64,193.85 L262.69,193.68 L263.74,193.50 L264.79,193.33 L265.84,193.15 L266.89,192.98 L267.94,192.80 L268.99,192.63 L270.04,192.45 L271.09,192.28 L272.14,192.10 L273.19,191.93 L274.24,191.75 L275.29,191.58 L276.34,191.40 L277.39,191.23 L278.44,191.05 L279.49,190.88 L280.54,190.70 L281.59,190.53 L282.64,190.35 L283.69,190.18 L284.74,190.00 L285.79,189.83 L286.84,189.65 L287.89,189.48 L288.94,189.30 L289.99,189.13 L291.04,188.95 L292.09,188.78 L293.14,188.60 L294.19,188.43 L295.24,188.25 L296.29,188.08 L297.34,187.90 L298.40,187.73 L299.45,187.55 L300.50,187.38 L301.55,187.20 L302.60,187.03 L303.65,186.85 L304.70,186.68 L305.75,186.50 L306.80,186.33 L307.85,186.15 L308.90,185.98 L309.95,185.80 L311.00,185.63 L312.05,185.45 L313.10,185.28 L314.15,185.10 L315.20,184.93 L316.25,184.75 L317.30,184.58 L318.35,184.40 L319.40,184.23 L320.45,184.05 L321.50,183.88 L322.55,183.70 L323.60,183.53 L324.65,183.35 L325.70,183.18 L326.75,183.00 L327.80,182.83 L328.85,182.65 L329.90,182.48 L330.95,182.30 L332.00,182.13 L333.05,181.95 L334.10,181.78 L335.15,181.60 L336.20,181.43 L337.25,181.25 L338.30,181.08 L339.35,180.90 L340.40,180.73 L341.45,180.56 L342.50,180.38 L343.55,180.21 L344.60,180.03 L345.65,179.86 L346.70,179.68 L347.75,179.51 L348.80,179.33 L349.85,179.16 L350.90,178.98 L351.95,178.81 L353.00,178.63 L354.05,178.46 L355.10,178.28 L356.15,178.11 L357.20,177.93 L358.25,177.76 L359.31,177.58 L360.36,177.41 L361.41,177.23 L362.46,177.06 L363.51,176.88 L364.56,176.71 L365.61,176.53 L366.66,176.36 L367.71,176.18 L368.76,176.01 L369.81,175.83 L370.86,175.66 L371.91,175.48 L372.96,175.31 L374.01,175.14 L375.06,174.96 L376.11,174.79 L377.16,174.61 L378.21,174.44 L379.26,174.26 L380.31,174.09 L381.36,173.92 L382.41,173.74 L383.46,173.57 L384.51,173.40 L385.56,173.22 L386.61,173.05 L387.66,172.88 L388.71,172.70 L389.76,172.53 L390.81,172.36 L391.86,172.19 L392.91,172.01 L393.96,171.84 L395.01,171.67 L396.06,171.50 L397.11,171.33 L398.16,171.16 L399.21,170.99 L400.26,170.82 L401.31,170.65 L402.36,170.48 L403.41,170.32 L404.46,170.15 L405.51,169.98 L406.56,169.82 L407.61,169.66 L408.66,169.49 L409.71,169.33 L410.76,169.17 L411.81,169.02 L412.86,168.86 L413.91,168.71 L414.96,168.55 L416.01,168.40 L417.06,168.26 L418.11,168.11 L419.16,167.97 L420.22,167.83 L421.27,167.69 L422.32,167.56 L423.37,167.44 L424.42,167.31 L425.47,167.20 L426.52,167.09 L427.57,166.98 L428.62,166.88 L429.67,166.79 L430.72,166.71 L431.77,166.64 L432.82,166.57 L433.87,166.52 L434.92,166.48 L435.97,166.45 L437.02,166.43 L438.07,166.43 L439.12,166.45 L440.17,166.48 L441.22,166.53 L442.27,166.60 L443.32,166.69 L444.37,166.81 L445.42,166.95 L446.47,167.12 L447.52,167.32 L448.57,167.55 L449.62,167.81 L450.67,168.10 L451.72,168.44 L452.77,168.81 L453.82,169.22 L454.87,169.68 L455.92,170.18 L456.97,170.73 L458.02,171.33 L459.07,171.98 L460.12,172.69 L461.17,173.45 L462.22,174.26 L463.27,175.14 L464.32,176.07 L465.37,177.07 L466.42,178.13 L467.47,179.25 L468.52,180.43 L469.57,181.68 L470.62,183.00 L471.67,184.38 L472.72,185.83 L473.77,187.34 L474.82,188.92 L475.87,190.56 L476.92,192.27 L477.97,194.04 L479.02,195.88 L480.08,197.78 L481.13,199.75 L482.18,201.78 L483.23,203.86 L484.28,206.01 L485.33,208.22 L486.38,210.49 L487.43,212.82 L488.48,215.20 L489.53,217.64 L490.58,220.13 L491.63,222.68 L492.68,225.28 L493.73,227.94 L494.78,230.64 L495.83,233.40" stroke="#0000ff" stroke-dasharray="5 1.2 2.4 1.2"/>
<path d="M24.30,233.40 L25.35,233.14 L26.41,232.89 L27.46,232.63 L28.51,232.38 L29.57,232.12 L30.62,231.86 L31.67,231.61 L32.72,231.35 L33.78,231.09 L34.83,230.84 L35.88,230.58 L36.94,230.33 L37.99,230.07 L39.04,229.81 L40.10,229.56 L41.15,229.30 L42.20,229.04 L43.26,228.79 L44.31,228.53 L45.36,228.28 L46.42,228.02 L47.47,227.76 L48.52,227.51 L49.57,227.25 L50.63,227.00 L51.68,226.74 L52.73,226.48 L53.79,226.23 L54.84,225.97 L55.89,225.71 L56.95,225.46 L58.00,225.20 L59.05,224.95 L60.11,224.69 L61.16,224.43 L62.21,224.18 L63.26,223.92 L64.32,223.66 L65.37,223.41 L66.42,223.15 L67.48,222.90 L68.53,222.64 L69.58,222.38 L70.64,222.13 L71.69,221.87 L72.74,221.62 L73.80,221.36 L74.85,221.10 L75.90,220.85 L76.95,220.59 L78.01,220.33 L79.06,220.08 L80.11,219.82 L81.17,219.57 L82.22,219.31 L83.27,219.05 L84.33,218.80 L85.38,218.54 L86.43,218.28 L87.49,218.03 L88.54,217.77 L89.59,217.52 L90.65,217.26 L91.70,217.00 L92.75,216.75 L93.80,216.49 L94.86,216.24 L95.91,215.98 L96.96,215.72 L98.02,215.47 L99.07,215.21 L100.12,214.95 L101.18,214.70 L102.23,214.44 L103.28,214.19 L104.34,213.93 L105.39,213.67 L106.44,213.42 L107.49,213.16 L108.55,212.90 L109.60,212.65 L110.65,212.39 L111.71,212.14 L112.76,211.88 L113.81,211.62 L114.87,211.37 L115.92,211.11 L116.97,210.86 L118.03,210.60 L119.08,210.34 L120.13,210.09 L121.18,209.83 L122.24,209.57 L123.29,209.32 L124.34,209.06 L125.40,208.81 L126.45,208.55 L127.50,208.29 L128.56,208.04 L129.61,207.78 L130.66,207.52 L131.72,207.27 L132.77,207.01 L133.82,206.76 L134.88,206.50 L135.93,206.24 L136.98,205.99 L138.03,205.73 L139.09,205.48 L140.14,205.22 L141.19,204.96 L142.25,204.71 L143.30,204.45 L144.35,204.19 L145.41,203.94 L146.46,203.68 L147.51,203.43 L148.57,203.17 L149.62,202.91 L150.67,202.66 L151.72,202.40 L152.78,202.15 L153.83,201.89 L154.88,201.63 L155.94,201.38 L156.99,201.12 L158.04,200.86 L159.10,200.61 L160.15,200.35 L161.20,200.10 L162.26,199.84 L163.31,199.58 L164.36,199.33 L165.41,199.07 L166.47,198.81 L167.52,198.56 L168.57,198.30 L169.63,198.05 L170.68,197.79 L171.73,197.53 L172.79,197.28 L173.84,197.02 L174.89,196.77 L175.95,196.51 L177.00,196.25 L178.05,196.00 L179.11,195.74 L180.16,195.48 L181.21,195.23 L182.26,194.97 L183.32,194.72 L184.37,194.46 L185.42,194.20 L186.48,193.95 L187.53,193.69 L188.58,193.43 L189.64,193.18 L190.69,192.92 L191.74,192.67 L192.80,192.41 L193.85,192.15 L194.90,191.90 L195.95,191.64 L197.01,191.39 L198.06,191.13 L199.11,190.87 L200.17,190.62 L201.22,190.36 L202.27,190.10 L203.33,189.85 L204.38,189.59 L205.43,189.34 L206.49,189.08 L207.54,188.82 L208.59,188.57 L209.64,188.31 L210.70,188.05 L211.75,187.80 L212.80,187.54 L213.86,187.29 L214.91,187.03 L215.96,186.77 L217.02,186.52 L218.07,186.26 L219.12,186.01 L220.18,185.75 L221.23,185.49 L222.28,185.24 L223.34,184.98 L224.39,184.72 L225.44,184.47 L226.49,184.21 L227.55,183.96 L228.60,183.70 L229.65,183.44 L230.71,183.19 L231.76,182.93 L232.81,182.68 L233.87,182.42 L234.92,182.16 L235.97,181.91 L237.03,181.65 L238.08,181.39 L239.13,181.14 L240.18,180.88 L241.24,180.63 L242.29,180.37 L243.34,180.11 L244.40,179.86 L245.45,179.60 L246.50,179.35 L247.56,179.09 L248.61,178.83 L249.66,178.58 L250.72,178.32 L251.77,178.07 L252.82,177.81 L253.87,177.55 L254.93,177.30 L255.98,177.04 L257.03,176.79 L258.09,176.53 L259.14,176.27 L260.19,176.02 L261.25,175.76 L262.30,175.51 L263.35,175.25 L264.41,174.99 L265.46,174.74 L266.51,174.48 L267.57,174.23 L268.62,173.97 L269.67,173.71 L270.72,173.46 L271.78,173.20 L272.83,172.95 L273.88,172.69 L274.94,172.43 L275.99,172.18 L277.04,171.92 L278.10,171.67 L279.15,171.41 L280.20,171.16 L281.26,170.90 L282.31,170.64 L283.36,170.39 L284.41,170.13 L285.47,169.88 L286.52,169.62 L287.57,169.37 L288.63,169.11 L289.68,168.86 L290.73,168.60 L291.79,168.34 L292.84,168.09 L293.89,167.83 L294.95,167.58 L296.00,167.32 L297.05,167.07 L298.10,166.81 L299.16,166.56 L300.21,166.30 L301.26,166.05 L302.32,165.79 L303.37,165.54 L304.42,165.28 L305.48,165.03 L306.53,164.78 L307.58,164.52 L308.64,164.27 L309.69,164.01 L310.74,163.76 L311.80,163.50 L312.85,163.25 L313.90,163.00 L314.95,162.74 L316.01,162.49 L317.06,162.24 L318.11,161.98 L319.17,161.73 L320.22,161.48 L321.27,161.22 L322.33,160.97 L323.38,160.72 L324.43,160.47 L325.49,160.21 L326.54,159.96 L327.59,159.71 L328.64,159.46 L329.70,159.21 L330.75,158.96 L331.80,158.71 L332.86,158.46 L333.91,158.21 L334.96,157.96 L336.02,157.71 L337.07,157.46 L338.12,157.21 L339.18,156.96 L340.23,156.71 L341.28,156.46 L342.34,156.22 L343.39,155.97 L344.44,155.72 L345.49,155.48 L346.55,155.23 L347.60,154.99 L348.65,154.75 L349.71,154.50 L350.76,154.26 L351.81,154.02 L352.87,153.78 L353.92,153.54 L354.97,153.30 L356.03,153.06 L357.08,152.82 L358.13,152.58 L359.18,152.35 L360.24,152.11 L361.29,151.88 L362.34,151.65 L363.40,151.41 L364.45,151.18 L365.50,150.96 L366.56,150.73 L367.61,150.50 L368.66,150.28 L369.72,150.05 L370.77,149.83 L371.82,149.61 L372.87,149.40 L373.93,149.18 L374.98,148.97 L376.03,148.75 L377.09,148.54 L378.14,148.34 L379.19,148.13 L380.25,147.93 L381.30,147.73 L382.35,147.54 L383.41,147.34 L384.46,147.15 L385.51,146.96 L386.57,146.78 L387.62,146.60 L388.67,146.42 L389.72,146.25 L390.78,146.08 L391.83,145.92 L392.88,145.76 L393.94,145.61 L394.99,145.46 L396.04,145.31 L397.10,145.17 L398.15,145.04 L399.20,144.91 L400.26,144.79 L401.31,144.68 L402.36,144.57 L403.41,144.47 L404.47,144.37 L405.52,144.29 L406.57,144.21 L407.63,144.14 L408.68,144.08 L409.73,144.03 L410.79,143.99 L411.84,143.96 L412.89,143.94 L413.95,143.93 L415.00,143.93 L416.05,143.95 L417.10,143.98 L418.16,144.01 L419.21,144.07 L420.26,144.14 L421.32,144.22 L422.37,144.31 L423.42,144.43 L424.48,144.56 L425.53,144.70 L426.58,144.87 L427.64,145.05 L428.69,145.25 L429.74,145.47 L430.80,145.71 L431.85,145.97 L432.90,146.25 L433.95,146.56 L435.01,146.89 L436.06,147.24 L437.11,147.62 L438.17,148.02 L439.22,148.46 L440.27,148.91 L441.33,149.40 L442.38,149.91 L443.43,150.46 L444.49,151.03 L445.54,151.64 L446.59,152.27 L447.64,152.95 L448.70,153.65 L449.75,154.39 L450.80,155.16 L451.86,155.97 L452.91,156.82 L453.96,157.71 L455.02,158.63 L456.07,159.59 L457.12,160.59 L458.18,161.64 L459.23,162.72 L460.28,163.85 L461.33,165.02 L462.39,166.23 L463.44,167.49 L464.49,168.79 L465.55,170.14 L466.60,171.53 L467.65,172.97 L468.71,174.46 L469.76,175.99 L470.81,177.57 L471.87,179.20 L472.92,180.88 L473.97,182.60 L475.03,184.38 L476.08,186.20 L477.13,188.08 L478.18,190.00 L479.24,191.98 L480.29,194.01 L481.34,196.08 L482.40,198.21 L483.45,200.39 L484.50,202.62 L485.56,204.90 L486.61,207.24 L487.66,209.62 L488.72,212.06 L489.77,214.55 L490.82,217.09 L491.87,219.68 L492.93,222.32 L493.98,225.01 L495.03,227.76 L496.09,230.55 L497.14,233.40" stroke="#00ffff" stroke-dasharray="5 1.2 2.4 1.2"/>
</g></g>
<g stroke="#8c8c8c" stroke-width="1" fill="none">
<path d="M516.5,14.5 H24.5" stroke="#a6a6a6"/>
<path d="M24.5,14.0 V233.5" stroke="#9a9a9a"/>
<path d="M24.0,233.5 H516.5" stroke="#7c7c7c"/>
<path d="M78.99,233.5 v-4.9 M78.99,14.5 v4.9 M133.68,233.5 v-4.9 M133.68,14.5 v4.9 M188.37,233.5 v-4.9 M188.37,14.5 v4.9 M243.06,233.5 v-4.9 M243.06,14.5 v4.9 M297.74,233.5 v-4.9 M297.74,14.5 v4.9 M352.43,233.5 v-4.9 M352.43,14.5 v4.9 M407.12,233.5 v-4.9 M407.12,14.5 v4.9 M461.81,233.5 v-4.9 M461.81,14.5 v4.9 M24.5,209.10 h4.9 M24.5,184.80 h4.9 M24.5,160.50 h4.9 M24.5,136.20 h4.9 M24.5,111.90 h4.9 M24.5,87.60 h4.9 M24.5,63.30 h4.9 M24.5,39.00 h4.9" stroke="#909090"/>
</g>
<g stroke="#93c7db" stroke-width="1" fill="none">
<path d="M516.5,14.0 V234.0 M516.5,196.95 h-4.9 M516.5,160.50 h-4.9 M516.5,124.05 h-4.9 M516.5,87.60 h-4.9 M516.5,51.15 h-4.9"/>
</g>
<g font-family='"Liberation Sans", Arial, Helvetica, sans-serif' font-size="6.6" fill="#2a2a2a">
<text x="24.30" y="243.20" text-anchor="middle">0</text>
<text x="78.99" y="243.20" text-anchor="middle">10</text>
<text x="133.68" y="243.20" text-anchor="middle">20</text>
<text x="188.37" y="243.20" text-anchor="middle">30</text>
<text x="243.06" y="243.20" text-anchor="middle">40</text>
<text x="297.74" y="243.20" text-anchor="middle">50</text>
<text x="352.43" y="243.20" text-anchor="middle">60</text>
<text x="407.12" y="243.20" text-anchor="middle">70</text>
<text x="461.81" y="243.20" text-anchor="middle">80</text>
<text x="516.50" y="243.20" text-anchor="middle">90</text>
<text x="21.00" y="236.18" text-anchor="end">0</text>
<text x="21.00" y="211.88" text-anchor="end">5</text>
<text x="21.00" y="187.58" text-anchor="end">10</text>
<text x="21.00" y="163.28" text-anchor="end">15</text>
<text x="21.00" y="138.98" text-anchor="end">20</text>
<text x="21.00" y="114.68" text-anchor="end">25</text>
<text x="21.00" y="90.38" text-anchor="end">30</text>
<text x="21.00" y="66.08" text-anchor="end">35</text>
<text x="21.00" y="41.78" text-anchor="end">40</text>
<text x="21.00" y="17.48" text-anchor="end">45</text>
</g>
<g font-family='"Liberation Sans", Arial, Helvetica, sans-serif' font-size="6.34" fill="#1c8ac4" stroke="#1c8ac4" stroke-width="0.18">
<text x="520.10" y="236.18">0</text>
<text x="520.10" y="199.73">500</text>
<text x="520.10" y="163.28">1000</text>
<text x="520.10" y="126.83">1500</text>
<text x="520.10" y="90.38">2000</text>
<text x="520.10" y="53.93">2500</text>
<text x="520.10" y="17.48">3000</text>
</g>
<text x="272.8" y="255.4" font-family='"Liberation Sans", Arial, Helvetica, sans-serif' font-size="9.3" fill="#333" text-anchor="middle">Voltage (V)</text>
<text transform="translate(9.2,123.4) rotate(-90)" font-family='"Liberation Sans", Arial, Helvetica, sans-serif' font-size="9.3" fill="#333" text-anchor="middle">Current (A)</text>
<text transform="translate(544.9,123.9) rotate(-90)" font-family='"Liberation Sans", Arial, Helvetica, sans-serif' font-size="9.3" fill="#1c8ac4" stroke="#1c8ac4" stroke-width="0.3" text-anchor="middle">Power (W)</text>
<text x="270" y="10.8" font-family='"Liberation Sans", Arial, Helvetica, sans-serif' font-size="10.55" font-weight="bold" fill="#111" text-anchor="middle">Eight shaded modules</text>
<text x="272" y="271.3" font-family='"Liberation Serif", "Times New Roman", serif' font-size="11.5" font-weight="bold" fill="#111" text-anchor="middle">(h)</text>
<rect x="25.6" y="43.8" width="268.09999999999997" height="39.3" fill="#fff" stroke="#9a9a9a" stroke-width="1"/>
<g font-family='"Liberation Sans", Arial, Helvetica, sans-serif' font-size="7.28" fill="#000" stroke-width="1.2400000000000002">
<path d="M27.3,49.05 H46.4" stroke="#ff0000" fill="none"/>
<text x="48.8" y="51.67">I-V Case 0</text>
<path d="M159,49.05 H178.4" stroke="#ff0000" fill="none" stroke-dasharray="5 1.2 2.4 1.2"/>
<text x="180.7" y="51.67">P-V Case 0</text>
<path d="M27.3,58.60 H46.4" stroke="#00ff00" fill="none"/>
<text x="48.8" y="61.22">I-V Case (29,SP 31,SP)</text>
<path d="M159,58.60 H178.4" stroke="#00ff00" fill="none" stroke-dasharray="5 1.2 2.4 1.2"/>
<text x="180.7" y="61.22">P-V Case (29,SP 31,SP)</text>
<path d="M27.3,68.15 H46.4" stroke="#0000ff" fill="none"/>
<text x="48.8" y="70.77">I-V Case 29,TCT</text>
<path d="M159,68.15 H178.4" stroke="#0000ff" fill="none" stroke-dasharray="5 1.2 2.4 1.2"/>
<text x="180.7" y="70.77">P-V Case 29,TCT</text>
<path d="M27.3,77.70 H46.4" stroke="#00ffff" fill="none"/>
<text x="48.8" y="80.32">I-V Case (30,SP 30,TCT 31,TCT)</text>
<path d="M159,77.70 H178.4" stroke="#00ffff" fill="none" stroke-dasharray="5 1.2 2.4 1.2"/>
<text x="180.7" y="80.32">P-V Case (30,SP 30,TCT 31,TCT)</text>
</g>
</g>
<g id="p2">
<g fill="none" stroke-width="1.5" stroke-linejoin="round">
<clipPath id="p2clip"><rect x="29.3" y="288.2" width="474.9" height="212.00000000000003"/></clipPath>
<g clip-path="url(#p2clip)">
<path d="M30.30,304.63 L31.35,304.63 L32.39,304.63 L33.44,304.63 L34.49,304.63 L35.54,304.63 L36.58,304.63 L37.63,304.63 L38.68,304.63 L39.72,304.63 L40.77,304.63 L41.82,304.63 L42.87,304.63 L43.91,304.63 L44.96,304.63 L46.01,304.63 L47.05,304.63 L48.10,304.63 L49.15,304.63 L50.20,304.63 L51.24,304.63 L52.29,304.63 L53.34,304.63 L54.38,304.63 L55.43,304.63 L56.48,304.63 L57.53,304.63 L58.57,304.63 L59.62,304.63 L60.67,304.63 L61.71,304.63 L62.76,304.63 L63.81,304.63 L64.86,304.63 L65.90,304.63 L66.95,304.63 L68.00,304.63 L69.04,304.63 L70.09,304.63 L71.14,304.63 L72.19,304.63 L73.23,304.63 L74.28,304.63 L75.33,304.63 L76.37,304.63 L77.42,304.63 L78.47,304.63 L79.52,304.63 L80.56,304.63 L81.61,304.63 L82.66,304.63 L83.70,304.63 L84.75,304.63 L85.80,304.63 L86.85,304.63 L87.89,304.63 L88.94,304.63 L89.99,304.63 L91.03,304.63 L92.08,304.63 L93.13,304.63 L94.18,304.63 L95.22,304.63 L96.27,304.63 L97.32,304.63 L98.36,304.63 L99.41,304.63 L100.46,304.63 L101.51,304.63 L102.55,304.63 L103.60,304.63 L104.65,304.63 L105.69,304.63 L106.74,304.63 L107.79,304.63 L108.84,304.63 L109.88,304.63 L110.93,304.63 L111.98,304.63 L113.02,304.63 L114.07,304.63 L115.12,304.63 L116.17,304.63 L117.21,304.63 L118.26,304.63 L119.31,304.63 L120.35,304.63 L121.40,304.63 L122.45,304.63 L123.50,304.63 L124.54,304.63 L125.59,304.63 L126.64,304.63 L127.68,304.63 L128.73,304.63 L129.78,304.63 L130.83,304.63 L131.87,304.63 L132.92,304.63 L133.97,304.63 L135.01,304.63 L136.06,304.63 L137.11,304.63 L138.16,304.63 L139.20,304.63 L140.25,304.63 L141.30,304.63 L142.34,304.63 L143.39,304.63 L144.44,304.63 L145.49,304.63 L146.53,304.63 L147.58,304.63 L148.63,304.63 L149.67,304.63 L150.72,304.63 L151.77,304.63 L152.82,304.63 L153.86,304.63 L154.91,304.63 L155.96,304.63 L157.00,304.63 L158.05,304.63 L159.10,304.63 L160.15,304.63 L161.19,304.63 L162.24,304.63 L163.29,304.63 L164.33,304.63 L165.38,304.63 L166.43,304.63 L167.48,304.63 L168.52,304.63 L169.57,304.63 L170.62,304.63 L171.66,304.63 L172.71,304.63 L173.76,304.63 L174.81,304.63 L175.85,304.63 L176.90,304.63 L177.95,304.63 L178.99,304.63 L180.04,304.63 L181.09,304.63 L182.14,304.63 L183.18,304.63 L184.23,304.63 L185.28,304.63 L186.32,304.63 L187.37,304.63 L188.42,304.63 L189.47,304.63 L190.51,304.63 L191.56,304.63 L192.61,304.63 L193.65,304.63 L194.70,304.63 L195.75,304.63 L196.80,304.63 L197.84,304.63 L198.89,304.63 L199.94,304.63 L200.98,304.63 L202.03,304.63 L203.08,304.63 L204.13,304.63 L205.17,304.63 L206.22,304.63 L207.27,304.63 L208.31,304.63 L209.36,304.63 L210.41,304.63 L211.46,304.63 L212.50,304.63 L213.55,304.63 L214.60,304.63 L215.64,304.63 L216.69,304.63 L217.74,304.63 L218.79,304.63 L219.83,304.63 L220.88,304.63 L221.93,304.63 L222.97,304.63 L224.02,304.63 L225.07,304.63 L226.12,304.63 L227.16,304.63 L228.21,304.63 L229.26,304.63 L230.30,304.63 L231.35,304.63 L232.40,304.63 L233.45,304.63 L234.49,304.63 L235.54,304.63 L236.59,304.63 L237.63,304.63 L238.68,304.63 L239.73,304.63 L240.78,304.63 L241.82,304.63 L242.87,304.63 L243.92,304.63 L244.96,304.63 L246.01,304.63 L247.06,304.63 L248.11,304.63 L249.15,304.63 L250.20,304.63 L251.25,304.63 L252.29,304.63 L253.34,304.63 L254.39,304.63 L255.44,304.63 L256.48,304.63 L257.53,304.63 L258.58,304.63 L259.62,304.63 L260.67,304.63 L261.72,304.63 L262.77,304.63 L263.81,304.64 L264.86,304.64 L265.91,304.64 L266.95,304.64 L268.00,304.64 L269.05,304.64 L270.10,304.64 L271.14,304.64 L272.19,304.64 L273.24,304.64 L274.28,304.64 L275.33,304.64 L276.38,304.64 L277.43,304.64 L278.47,304.64 L279.52,304.64 L280.57,304.64 L281.61,304.65 L282.66,304.65 L283.71,304.65 L284.76,304.65 L285.80,304.65 L286.85,304.65 L287.90,304.65 L288.94,304.65 L289.99,304.66 L291.04,304.66 L292.09,304.66 L293.13,304.66 L294.18,304.66 L295.23,304.66 L296.27,304.67 L297.32,304.67 L298.37,304.67 L299.42,304.67 L300.46,304.68 L301.51,304.68 L302.56,304.68 L303.60,304.69 L304.65,304.69 L305.70,304.69 L306.75,304.70 L307.79,304.70 L308.84,304.70 L309.89,304.71 L310.93,304.71 L311.98,304.72 L313.03,304.72 L314.08,304.73 L315.12,304.74 L316.17,304.74 L317.22,304.75 L318.26,304.76 L319.31,304.77 L320.36,304.77 L321.41,304.78 L322.45,304.79 L323.50,304.80 L324.55,304.81 L325.59,304.82 L326.64,304.83 L327.69,304.85 L328.74,304.86 L329.78,304.87 L330.83,304.89 L331.88,304.90 L332.92,304.92 L333.97,304.94 L335.02,304.96 L336.07,304.98 L337.11,305.00 L338.16,305.02 L339.21,305.04 L340.25,305.07 L341.30,305.10 L342.35,305.12 L343.40,305.15 L344.44,305.19 L345.49,305.22 L346.54,305.25 L347.58,305.29 L348.63,305.33 L349.68,305.37 L350.73,305.42 L351.77,305.47 L352.82,305.52 L353.87,305.57 L354.91,305.63 L355.96,305.69 L357.01,305.75 L358.06,305.82 L359.10,305.89 L360.15,305.96 L361.20,306.04 L362.24,306.12 L363.29,306.21 L364.34,306.31 L365.39,306.41 L366.43,306.51 L367.48,306.62 L368.53,306.74 L369.57,306.86 L370.62,307.00 L371.67,307.13 L372.72,307.28 L373.76,307.43 L374.81,307.60 L375.86,307.77 L376.90,307.95 L377.95,308.14 L379.00,308.35 L380.05,308.56 L381.09,308.78 L382.14,309.02 L383.19,309.27 L384.23,309.53 L385.28,309.81 L386.33,310.10 L387.38,310.40 L388.42,310.72 L389.47,311.06 L390.52,311.42 L391.56,311.79 L392.61,312.18 L393.66,312.59 L394.71,313.02 L395.75,313.47 L396.80,313.94 L397.85,314.43 L398.89,314.95 L399.94,315.48 L400.99,316.05 L402.04,316.63 L403.08,317.25 L404.13,317.88 L405.18,318.55 L406.22,319.24 L407.27,319.96 L408.32,320.71 L409.37,321.49 L410.41,322.30 L411.46,323.14 L412.51,324.00 L413.55,324.90 L414.60,325.84 L415.65,326.80 L416.70,327.80 L417.74,328.83 L418.79,329.89 L419.84,330.98 L420.88,332.11 L421.93,333.28 L422.98,334.47 L424.03,335.71 L425.07,336.97 L426.12,338.27 L427.17,339.60 L428.21,340.97 L429.26,342.37 L430.31,343.81 L431.36,345.28 L432.40,346.78 L433.45,348.32 L434.50,349.89 L435.54,351.50 L436.59,353.13 L437.64,354.80 L438.69,356.50 L439.73,358.24 L440.78,360.00 L441.83,361.80 L442.87,363.62 L443.92,365.48 L444.97,367.37 L446.02,369.29 L447.06,371.23 L448.11,373.21 L449.16,375.21 L450.20,377.24 L451.25,379.30 L452.30,381.39 L453.35,383.50 L454.39,385.64 L455.44,387.80 L456.49,389.99 L457.53,392.21 L458.58,394.45 L459.63,396.71 L460.68,399.00 L461.72,401.31 L462.77,403.64 L463.82,405.99 L464.86,408.37 L465.91,410.77 L466.96,413.19 L468.01,415.63 L469.05,418.09 L470.10,420.57 L471.15,423.07 L472.19,425.59 L473.24,428.12 L474.29,430.68 L475.34,433.25 L476.38,435.84 L477.43,438.45 L478.48,441.08 L479.52,443.72 L480.57,446.38 L481.62,449.05 L482.67,451.74 L483.71,454.45 L484.76,457.17 L485.81,459.90 L486.85,462.65 L487.90,465.42 L488.95,468.19 L490.00,470.99 L491.04,473.79 L492.09,476.61 L493.14,479.44 L494.18,482.28 L495.23,485.14 L496.28,488.01 L497.33,490.89 L498.37,493.78 L499.42,496.68 L500.47,499.60" stroke="#ff0000"/>
<path d="M30.30,414.50 L31.30,414.50 L32.30,414.50 L33.31,414.50 L34.31,414.50 L35.31,414.50 L36.31,414.50 L37.31,414.50 L38.31,414.50 L39.32,414.50 L40.32,414.50 L41.32,414.50 L42.32,414.50 L43.32,414.50 L44.33,414.50 L45.33,414.50 L46.33,414.50 L47.33,414.50 L48.33,414.50 L49.34,414.50 L50.34,414.50 L51.34,414.50 L52.34,414.50 L53.34,414.50 L54.34,414.50 L55.35,414.50 L56.35,414.50 L57.35,414.50 L58.35,414.50 L59.35,414.50 L60.36,414.50 L61.36,414.50 L62.36,414.50 L63.36,414.50 L64.36,414.50 L65.36,414.50 L66.37,414.50 L67.37,414.50 L68.37,414.50 L69.37,414.50 L70.37,414.50 L71.38,414.50 L72.38,414.50 L73.38,414.50 L74.38,414.50 L75.38,414.50 L76.39,414.50 L77.39,414.50 L78.39,414.50 L79.39,414.50 L80.39,414.50 L81.39,414.50 L82.40,414.50 L83.40,414.50 L84.40,414.50 L85.40,414.50 L86.40,414.50 L87.41,414.50 L88.41,414.50 L89.41,414.50 L90.41,414.50 L91.41,414.50 L92.42,414.50 L93.42,414.50 L94.42,414.50 L95.42,414.50 L96.42,414.50 L97.42,414.50 L98.43,414.50 L99.43,414.50 L100.43,414.50 L101.43,414.50 L102.43,414.50 L103.44,414.50 L104.44,414.50 L105.44,414.50 L106.44,414.50 L107.44,414.50 L108.44,414.50 L109.45,414.50 L110.45,414.50 L111.45,414.50 L112.45,414.50 L113.45,414.50 L114.46,414.50 L115.46,414.50 L116.46,414.50 L117.46,414.50 L118.46,414.50 L119.47,414.50 L120.47,414.50 L121.47,414.50 L122.47,414.50 L123.47,414.50 L124.47,414.50 L125.48,414.50 L126.48,414.50 L127.48,414.50 L128.48,414.50 L129.48,414.50 L130.49,414.50 L131.49,414.50 L132.49,414.50 L133.49,414.50 L134.49,414.50 L135.49,414.50 L136.50,414.50 L137.50,414.50 L138.50,414.50 L139.50,414.50 L140.50,414.50 L141.51,414.50 L142.51,414.50 L143.51,414.50 L144.51,414.50 L145.51,414.50 L146.52,414.50 L147.52,414.50 L148.52,414.50 L149.52,414.50 L150.52,414.50 L151.52,414.50 L152.53,414.50 L153.53,414.50 L154.53,414.50 L155.53,414.50 L156.53,414.51 L157.54,414.51 L158.54,414.51 L159.54,414.51 L160.54,414.51 L161.54,414.51 L162.54,414.51 L163.55,414.51 L164.55,414.51 L165.55,414.51 L166.55,414.51 L167.55,414.51 L168.56,414.51 L169.56,414.51 L170.56,414.51 L171.56,414.51 L172.56,414.51 L173.57,414.51 L174.57,414.51 L175.57,414.51 L176.57,414.51 L177.57,414.51 L178.57,414.51 L179.58,414.51 L180.58,414.51 L181.58,414.52 L182.58,414.52 L183.58,414.52 L184.59,414.53 L185.59,414.53 L186.59,414.53 L187.59,414.54 L188.59,414.55 L189.59,414.56 L190.60,414.57 L191.60,414.58 L192.60,414.59 L193.60,414.61 L194.60,414.63 L195.61,414.66 L196.61,414.69 L197.61,414.73 L198.61,414.77 L199.61,414.82 L200.62,414.88 L201.62,414.94 L202.62,415.00 L203.62,415.07 L204.62,415.14 L205.62,415.23 L206.63,415.32 L207.63,415.43 L208.63,415.55 L209.63,415.68 L210.63,415.83 L211.64,415.99 L212.64,416.17 L213.64,416.38 L214.64,416.60 L215.64,416.84 L216.65,417.11 L217.65,417.40 L218.65,417.72 L219.65,418.06 L220.65,418.43 L221.65,418.83 L222.66,419.25 L223.66,419.71 L224.66,420.19 L225.66,420.71 L226.66,421.25 L227.67,421.82 L228.67,422.42 L229.67,423.04 L230.67,423.70 L231.67,424.38 L232.67,425.08 L233.68,425.82 L234.68,426.57 L235.68,427.35 L236.68,428.15 L237.68,428.98 L238.69,429.82 L239.69,430.69 L240.69,431.57 L241.69,432.48 L242.69,433.40 L243.70,434.34 L244.70,435.29 L245.70,436.26 L246.70,437.25 L247.70,438.25 L248.70,439.26 L249.71,440.29 L250.71,441.16 L251.71,441.16 L252.71,441.16 L253.71,441.16 L254.72,441.16 L255.72,441.16 L256.72,441.16 L257.72,441.16 L258.72,441.16 L259.72,441.16 L260.73,441.16 L261.73,441.16 L262.73,441.16 L263.73,441.16 L264.73,441.16 L265.74,441.16 L266.74,441.16 L267.74,441.16 L268.74,441.16 L269.74,441.16 L270.75,441.16 L271.75,441.16 L272.75,441.16 L273.75,441.16 L274.75,441.16 L275.75,441.16 L276.76,441.16 L277.76,441.16 L278.76,441.16 L279.76,441.16 L280.76,441.16 L281.77,441.16 L282.77,441.16 L283.77,441.16 L284.77,441.16 L285.77,441.16 L286.77,441.16 L287.78,441.16 L288.78,441.16 L289.78,441.16 L290.78,441.16 L291.78,441.16 L292.79,441.16 L293.79,441.16 L294.79,441.16 L295.79,441.16 L296.79,441.16 L297.80,441.16 L298.80,441.16 L299.80,441.16 L300.80,441.16 L301.80,441.16 L302.80,441.16 L303.81,441.16 L304.81,441.16 L305.81,441.16 L306.81,441.16 L307.81,441.16 L308.82,441.16 L309.82,441.16 L310.82,441.17 L311.82,441.17 L312.82,441.17 L313.83,441.17 L314.83,441.17 L315.83,441.17 L316.83,441.17 L317.83,441.17 L318.83,441.17 L319.84,441.17 L320.84,441.17 L321.84,441.17 L322.84,441.18 L323.84,441.18 L324.85,441.18 L325.85,441.18 L326.85,441.18 L327.85,441.18 L328.85,441.18 L329.85,441.18 L330.86,441.19 L331.86,441.19 L332.86,441.19 L333.86,441.19 L334.86,441.19 L335.87,441.20 L336.87,441.20 L337.87,441.20 L338.87,441.20 L339.87,441.21 L340.88,441.21 L341.88,441.21 L342.88,441.22 L343.88,441.22 L344.88,441.22 L345.88,441.23 L346.89,441.23 L347.89,441.24 L348.89,441.24 L349.89,441.25 L350.89,441.25 L351.90,441.26 L352.90,441.26 L353.90,441.27 L354.90,441.27 L355.90,441.28 L356.90,441.29 L357.91,441.30 L358.91,441.31 L359.91,441.31 L360.91,441.32 L361.91,441.33 L362.92,441.34 L363.92,441.35 L364.92,441.37 L365.92,441.38 L366.92,441.39 L367.93,441.40 L368.93,441.42 L369.93,441.43 L370.93,441.45 L371.93,441.47 L372.93,441.48 L373.94,441.50 L374.94,441.52 L375.94,441.54 L376.94,441.57 L377.94,441.59 L378.95,441.62 L379.95,441.64 L380.95,441.67 L381.95,441.70 L382.95,441.73 L383.95,441.76 L384.96,441.80 L385.96,441.84 L386.96,441.88 L387.96,441.92 L388.96,441.96 L389.97,442.01 L390.97,442.06 L391.97,442.11 L392.97,442.16 L393.97,442.22 L394.98,442.28 L395.98,442.34 L396.98,442.41 L397.98,442.48 L398.98,442.56 L399.98,442.64 L400.99,442.72 L401.99,442.81 L402.99,442.91 L403.99,443.00 L404.99,443.11 L406.00,443.22 L407.00,443.33 L408.00,443.46 L409.00,443.59 L410.00,443.72 L411.00,443.86 L412.01,444.02 L413.01,444.17 L414.01,444.34 L415.01,444.52 L416.01,444.70 L417.02,444.90 L418.02,445.10 L419.02,445.32 L420.02,445.55 L421.02,445.79 L422.03,446.04 L423.03,446.30 L424.03,446.58 L425.03,446.87 L426.03,447.17 L427.03,447.49 L428.04,447.82 L429.04,448.18 L430.04,448.54 L431.04,448.93 L432.04,449.33 L433.05,449.75 L434.05,450.19 L435.05,450.65 L436.05,451.13 L437.05,451.63 L438.06,452.16 L439.06,452.70 L440.06,453.27 L441.06,453.86 L442.06,454.48 L443.06,455.12 L444.07,455.78 L445.07,456.48 L446.07,457.19 L447.07,457.94 L448.07,458.71 L449.08,459.51 L450.08,460.34 L451.08,461.20 L452.08,462.09 L453.08,463.01 L454.08,463.95 L455.09,464.93 L456.09,465.94 L457.09,466.98 L458.09,468.05 L459.09,469.15 L460.10,470.29 L461.10,471.45 L462.10,472.65 L463.10,473.88 L464.10,475.14 L465.11,476.44 L466.11,477.76 L467.11,479.12 L468.11,480.51 L469.11,481.93 L470.11,483.38 L471.12,484.86 L472.12,486.38 L473.12,487.93 L474.12,489.50 L475.12,491.11 L476.13,492.75 L477.13,494.42 L478.13,496.12 L479.13,497.84 L480.13,499.60" stroke="#00ff00"/>
<path d="M30.30,414.50 L31.30,414.50 L32.31,414.50 L33.31,414.50 L34.32,414.50 L35.32,414.50 L36.33,414.50 L37.33,414.50 L38.33,414.50 L39.34,414.50 L40.34,414.50 L41.35,414.50 L42.35,414.50 L43.36,414.50 L44.36,414.50 L45.36,414.50 L46.37,414.50 L47.37,414.50 L48.38,414.50 L49.38,414.50 L50.39,414.50 L51.39,414.50 L52.39,414.50 L53.40,414.50 L54.40,414.50 L55.41,414.50 L56.41,414.50 L57.42,414.50 L58.42,414.50 L59.43,414.50 L60.43,414.50 L61.43,414.50 L62.44,414.50 L63.44,414.50 L64.45,414.50 L65.45,414.50 L66.46,414.50 L67.46,414.50 L68.46,414.50 L69.47,414.50 L70.47,414.50 L71.48,414.50 L72.48,414.50 L73.49,414.50 L74.49,414.50 L75.49,414.50 L76.50,414.50 L77.50,414.50 L78.51,414.50 L79.51,414.50 L80.52,414.50 L81.52,414.50 L82.52,414.50 L83.53,414.50 L84.53,414.50 L85.54,414.50 L86.54,414.50 L87.55,414.50 L88.55,414.50 L89.55,414.50 L90.56,414.50 L91.56,414.50 L92.57,414.50 L93.57,414.50 L94.58,414.50 L95.58,414.50 L96.58,414.50 L97.59,414.50 L98.59,414.50 L99.60,414.50 L100.60,414.50 L101.61,414.50 L102.61,414.50 L103.61,414.50 L104.62,414.50 L105.62,414.50 L106.63,414.50 L107.63,414.50 L108.64,414.50 L109.64,414.50 L110.65,414.50 L111.65,414.50 L112.65,414.50 L113.66,414.50 L114.66,414.50 L115.67,414.50 L116.67,414.50 L117.68,414.50 L118.68,414.50 L119.68,414.50 L120.69,414.50 L121.69,414.50 L122.70,414.50 L123.70,414.50 L124.71,414.50 L125.71,414.50 L126.71,414.50 L127.72,414.50 L128.72,414.50 L129.73,414.50 L130.73,414.50 L131.74,414.50 L132.74,414.50 L133.74,414.50 L134.75,414.50 L135.75,414.50 L136.76,414.50 L137.76,414.50 L138.77,414.50 L139.77,414.50 L140.77,414.50 L141.78,414.50 L142.78,414.50 L143.79,414.50 L144.79,414.50 L145.80,414.50 L146.80,414.50 L147.80,414.50 L148.81,414.50 L149.81,414.50 L150.82,414.50 L151.82,414.50 L152.83,414.50 L153.83,414.50 L154.83,414.50 L155.84,414.50 L156.84,414.51 L157.85,414.51 L158.85,414.51 L159.86,414.51 L160.86,414.51 L161.86,414.51 L162.87,414.51 L163.87,414.51 L164.88,414.51 L165.88,414.51 L166.89,414.51 L167.89,414.51 L168.90,414.51 L169.90,414.51 L170.90,414.51 L171.91,414.51 L172.91,414.51 L173.92,414.51 L174.92,414.51 L175.93,414.51 L176.93,414.51 L177.93,414.51 L178.94,414.51 L179.94,414.51 L180.95,414.52 L181.95,414.52 L182.96,414.52 L183.96,414.52 L184.96,414.53 L185.97,414.53 L186.97,414.54 L187.98,414.54 L188.98,414.55 L189.99,414.56 L190.99,414.57 L191.99,414.59 L193.00,414.60 L194.00,414.62 L195.01,414.64 L196.01,414.67 L197.02,414.70 L198.02,414.74 L199.02,414.79 L200.03,414.85 L201.03,414.91 L202.04,414.99 L203.04,415.09 L204.05,415.20 L205.05,415.33 L206.05,415.48 L207.06,415.66 L208.06,415.87 L209.07,416.12 L210.07,416.40 L211.08,416.73 L212.08,417.10 L213.08,417.53 L214.09,418.01 L215.09,418.55 L216.10,419.14 L217.10,419.81 L218.11,420.53 L219.11,421.33 L220.12,422.19 L221.12,423.11 L222.12,424.10 L223.13,425.15 L224.13,426.26 L225.14,427.43 L226.14,428.66 L227.15,429.94 L228.15,431.27 L229.15,432.65 L230.16,434.08 L231.16,435.55 L232.17,437.06 L233.17,438.61 L234.18,440.20 L235.18,441.16 L236.18,441.16 L237.19,441.16 L238.19,441.16 L239.20,441.16 L240.20,441.16 L241.21,441.16 L242.21,441.16 L243.21,441.16 L244.22,441.16 L245.22,441.16 L246.23,441.16 L247.23,441.16 L248.24,441.16 L249.24,441.16 L250.24,441.16 L251.25,441.16 L252.25,441.16 L253.26,441.16 L254.26,441.16 L255.27,441.16 L256.27,441.16 L257.27,441.16 L258.28,441.16 L259.28,441.16 L260.29,441.16 L261.29,441.16 L262.30,441.16 L263.30,441.16 L264.30,441.16 L265.31,441.16 L266.31,441.16 L267.32,441.16 L268.32,441.16 L269.33,441.16 L270.33,441.16 L271.34,441.16 L272.34,441.16 L273.34,441.16 L274.35,441.16 L275.35,441.16 L276.36,441.16 L277.36,441.16 L278.37,441.16 L279.37,441.16 L280.37,441.16 L281.38,441.16 L282.38,441.16 L283.39,441.16 L284.39,441.16 L285.40,441.16 L286.40,441.16 L287.40,441.16 L288.41,441.16 L289.41,441.16 L290.42,441.16 L291.42,441.16 L292.43,441.16 L293.43,441.16 L294.43,441.16 L295.44,441.16 L296.44,441.16 L297.45,441.16 L298.45,441.16 L299.46,441.16 L300.46,441.16 L301.46,441.16 L302.47,441.16 L303.47,441.16 L304.48,441.16 L305.48,441.16 L306.49,441.16 L307.49,441.16 L308.49,441.16 L309.50,441.16 L310.50,441.16 L311.51,441.16 L312.51,441.16 L313.52,441.16 L314.52,441.16 L315.52,441.16 L316.53,441.16 L317.53,441.16 L318.54,441.16 L319.54,441.16 L320.55,441.16 L321.55,441.16 L322.56,441.16 L323.56,441.16 L324.56,441.16 L325.57,441.16 L326.57,441.16 L327.58,441.16 L328.58,441.16 L329.59,441.16 L330.59,441.16 L331.59,441.16 L332.60,441.16 L333.60,441.16 L334.61,441.16 L335.61,441.16 L336.62,441.16 L337.62,441.16 L338.62,441.16 L339.63,441.16 L340.63,441.16 L341.64,441.16 L342.64,441.16 L343.65,441.16 L344.65,441.16 L345.65,441.16 L346.66,441.16 L347.66,441.16 L348.67,441.16 L349.67,441.16 L350.68,441.16 L351.68,441.16 L352.68,441.16 L353.69,441.16 L354.69,441.16 L355.70,441.16 L356.70,441.16 L357.71,441.17 L358.71,441.17 L359.71,441.17 L360.72,441.17 L361.72,441.17 L362.73,441.17 L363.73,441.17 L364.74,441.17 L365.74,441.18 L366.74,441.18 L367.75,441.18 L368.75,441.18 L369.76,441.18 L370.76,441.19 L371.77,441.19 L372.77,441.19 L373.77,441.20 L374.78,441.20 L375.78,441.20 L376.79,441.21 L377.79,441.21 L378.80,441.22 L379.80,441.22 L380.81,441.23 L381.81,441.23 L382.81,441.24 L383.82,441.25 L384.82,441.26 L385.83,441.26 L386.83,441.27 L387.84,441.28 L388.84,441.30 L389.84,441.31 L390.85,441.32 L391.85,441.34 L392.86,441.35 L393.86,441.37 L394.87,441.39 L395.87,441.41 L396.87,441.43 L397.88,441.46 L398.88,441.48 L399.89,441.51 L400.89,441.54 L401.90,441.57 L402.90,441.61 L403.90,441.65 L404.91,441.69 L405.91,441.74 L406.92,441.79 L407.92,441.85 L408.93,441.91 L409.93,441.97 L410.93,442.04 L411.94,442.12 L412.94,442.20 L413.95,442.29 L414.95,442.39 L415.96,442.49 L416.96,442.60 L417.96,442.72 L418.97,442.86 L419.97,443.00 L420.98,443.15 L421.98,443.32 L422.99,443.50 L423.99,443.69 L424.99,443.90 L426.00,444.12 L427.00,444.36 L428.01,444.61 L429.01,444.89 L430.02,445.18 L431.02,445.50 L432.03,445.83 L433.03,446.19 L434.03,446.57 L435.04,446.98 L436.04,447.41 L437.05,447.87 L438.05,448.36 L439.06,448.88 L440.06,449.42 L441.06,450.00 L442.07,450.60 L443.07,451.24 L444.08,451.91 L445.08,452.62 L446.09,453.35 L447.09,454.13 L448.09,454.93 L449.10,455.77 L450.10,456.65 L451.11,457.56 L452.11,458.51 L453.12,459.49 L454.12,460.51 L455.12,461.56 L456.13,462.65 L457.13,463.77 L458.14,464.92 L459.14,466.11 L460.15,467.33 L461.15,468.58 L462.15,469.87 L463.16,471.19 L464.16,472.54 L465.17,473.92 L466.17,475.33 L467.18,476.76 L468.18,478.23 L469.18,479.73 L470.19,481.25 L471.19,482.80 L472.20,484.37 L473.20,485.97 L474.21,487.59 L475.21,489.24 L476.21,490.91 L477.22,492.61 L478.22,494.32 L479.23,496.06 L480.23,497.82 L481.24,499.60" stroke="#0000ff"/>
<path d="M30.30,499.60 L31.35,499.02 L32.39,498.43 L33.44,497.85 L34.49,497.27 L35.54,496.69 L36.58,496.10 L37.63,495.52 L38.68,494.94 L39.72,494.35 L40.77,493.77 L41.82,493.19 L42.87,492.61 L43.91,492.02 L44.96,491.44 L46.01,490.86 L47.05,490.27 L48.10,489.69 L49.15,489.11 L50.20,488.53 L51.24,487.94 L52.29,487.36 L53.34,486.78 L54.38,486.19 L55.43,485.61 L56.48,485.03 L57.53,484.45 L58.57,483.86 L59.62,483.28 L60.67,482.70 L61.71,482.12 L62.76,481.53 L63.81,480.95 L64.86,480.37 L65.90,479.78 L66.95,479.20 L68.00,478.62 L69.04,478.04 L70.09,477.45 L71.14,476.87 L72.19,476.29 L73.23,475.70 L74.28,475.12 L75.33,474.54 L76.37,473.96 L77.42,473.37 L78.47,472.79 L79.52,472.21 L80.56,471.62 L81.61,471.04 L82.66,470.46 L83.70,469.88 L84.75,469.29 L85.80,468.71 L86.85,468.13 L87.89,467.54 L88.94,466.96 L89.99,466.38 L91.03,465.80 L92.08,465.21 L93.13,464.63 L94.18,464.05 L95.22,463.46 L96.27,462.88 L97.32,462.30 L98.36,461.72 L99.41,461.13 L100.46,460.55 L101.51,459.97 L102.55,459.38 L103.60,458.80 L104.65,458.22 L105.69,457.64 L106.74,457.05 L107.79,456.47 L108.84,455.89 L109.88,455.31 L110.93,454.72 L111.98,454.14 L113.02,453.56 L114.07,452.97 L115.12,452.39 L116.17,451.81 L117.21,451.23 L118.26,450.64 L119.31,450.06 L120.35,449.48 L121.40,448.89 L122.45,448.31 L123.50,447.73 L124.54,447.15 L125.59,446.56 L126.64,445.98 L127.68,445.40 L128.73,444.81 L129.78,444.23 L130.83,443.65 L131.87,443.07 L132.92,442.48 L133.97,441.90 L135.01,441.32 L136.06,440.73 L137.11,440.15 L138.16,439.57 L139.20,438.99 L140.25,438.40 L141.30,437.82 L142.34,437.24 L143.39,436.65 L144.44,436.07 L145.49,435.49 L146.53,434.91 L147.58,434.32 L148.63,433.74 L149.67,433.16 L150.72,432.57 L151.77,431.99 L152.82,431.41 L153.86,430.83 L154.91,430.24 L155.96,429.66 L157.00,429.08 L158.05,428.50 L159.10,427.91 L160.15,427.33 L161.19,426.75 L162.24,426.16 L163.29,425.58 L164.33,425.00 L165.38,424.42 L166.43,423.83 L167.48,423.25 L168.52,422.67 L169.57,422.08 L170.62,421.50 L171.66,420.92 L172.71,420.34 L173.76,419.75 L174.81,419.17 L175.85,418.59 L176.90,418.00 L177.95,417.42 L178.99,416.84 L180.04,416.26 L181.09,415.67 L182.14,415.09 L183.18,414.51 L184.23,413.92 L185.28,413.34 L186.32,412.76 L187.37,412.18 L188.42,411.59 L189.47,411.01 L190.51,410.43 L191.56,409.84 L192.61,409.26 L193.65,408.68 L194.70,408.10 L195.75,407.51 L196.80,406.93 L197.84,406.35 L198.89,405.76 L199.94,405.18 L200.98,404.60 L202.03,404.02 L203.08,403.43 L204.13,402.85 L205.17,402.27 L206.22,401.69 L207.27,401.10 L208.31,400.52 L209.36,399.94 L210.41,399.35 L211.46,398.77 L212.50,398.19 L213.55,397.61 L214.60,397.02 L215.64,396.44 L216.69,395.86 L217.74,395.27 L218.79,394.69 L219.83,394.11 L220.88,393.53 L221.93,392.94 L222.97,392.36 L224.02,391.78 L225.07,391.19 L226.12,390.61 L227.16,390.03 L228.21,389.45 L229.26,388.86 L230.30,388.28 L231.35,387.70 L232.40,387.11 L233.45,386.53 L234.49,385.95 L235.54,385.37 L236.59,384.78 L237.63,384.20 L238.68,383.62 L239.73,383.04 L240.78,382.45 L241.82,381.87 L242.87,381.29 L243.92,380.70 L244.96,380.12 L246.01,379.54 L247.06,378.96 L248.11,378.37 L249.15,377.79 L250.20,377.21 L251.25,376.63 L252.29,376.04 L253.34,375.46 L254.39,374.88 L255.44,374.29 L256.48,373.71 L257.53,373.13 L258.58,372.55 L259.62,371.96 L260.67,371.38 L261.72,370.80 L262.77,370.22 L263.81,369.63 L264.86,369.05 L265.91,368.47 L266.95,367.89 L268.00,367.30 L269.05,366.72 L270.10,366.14 L271.14,365.56 L272.19,364.97 L273.24,364.39 L274.28,363.81 L275.33,363.23 L276.38,362.64 L277.43,362.06 L278.47,361.48 L279.52,360.90 L280.57,360.32 L281.61,359.73 L282.66,359.15 L283.71,358.57 L284.76,357.99 L285.80,357.41 L286.85,356.82 L287.90,356.24 L288.94,355.66 L289.99,355.08 L291.04,354.50 L292.09,353.92 L293.13,353.33 L294.18,352.75 L295.23,352.17 L296.27,351.59 L297.32,351.01 L298.37,350.43 L299.42,349.85 L300.46,349.27 L301.51,348.69 L302.56,348.11 L303.60,347.53 L304.65,346.95 L305.70,346.37 L306.75,345.79 L307.79,345.21 L308.84,344.63 L309.89,344.05 L310.93,343.47 L311.98,342.89 L313.03,342.31 L314.08,341.74 L315.12,341.16 L316.17,340.58 L317.22,340.00 L318.26,339.43 L319.31,338.85 L320.36,338.28 L321.41,337.70 L322.45,337.13 L323.50,336.55 L324.55,335.98 L325.59,335.41 L326.64,334.83 L327.69,334.26 L328.74,333.69 L329.78,333.12 L330.83,332.55 L331.88,331.98 L332.92,331.42 L333.97,330.85 L335.02,330.28 L336.07,329.72 L337.11,329.15 L338.16,328.59 L339.21,328.03 L340.25,327.47 L341.30,326.91 L342.35,326.36 L343.40,325.80 L344.44,325.25 L345.49,324.70 L346.54,324.15 L347.58,323.60 L348.63,323.06 L349.68,322.52 L350.73,321.98 L351.77,321.44 L352.82,320.91 L353.87,320.38 L354.91,319.85 L355.96,319.32 L357.01,318.80 L358.06,318.29 L359.10,317.77 L360.15,317.26 L361.20,316.76 L362.24,316.26 L363.29,315.77 L364.34,315.28 L365.39,314.80 L366.43,314.32 L367.48,313.85 L368.53,313.38 L369.57,312.93 L370.62,312.48 L371.67,312.04 L372.72,311.61 L373.76,311.18 L374.81,310.77 L375.86,310.36 L376.90,309.97 L377.95,309.59 L379.00,309.22 L380.05,308.86 L381.09,308.51 L382.14,308.18 L383.19,307.86 L384.23,307.56 L385.28,307.27 L386.33,307.00 L387.38,306.74 L388.42,306.50 L389.47,306.29 L390.52,306.09 L391.56,305.91 L392.61,305.75 L393.66,305.62 L394.71,305.50 L395.75,305.41 L396.80,305.35 L397.85,305.31 L398.89,305.30 L399.94,305.32 L400.99,305.36 L402.04,305.44 L403.08,305.54 L404.13,305.68 L405.18,305.84 L406.22,306.05 L407.27,306.28 L408.32,306.55 L409.37,306.86 L410.41,307.21 L411.46,307.59 L412.51,308.01 L413.55,308.47 L414.60,308.97 L415.65,309.51 L416.70,310.09 L417.74,310.72 L418.79,311.38 L419.84,312.10 L420.88,312.85 L421.93,313.65 L422.98,314.50 L424.03,315.39 L425.07,316.32 L426.12,317.30 L427.17,318.33 L428.21,319.41 L429.26,320.53 L430.31,321.70 L431.36,322.92 L432.40,324.18 L433.45,325.50 L434.50,326.86 L435.54,328.26 L436.59,329.72 L437.64,331.22 L438.69,332.77 L439.73,334.37 L440.78,336.02 L441.83,337.71 L442.87,339.45 L443.92,341.24 L444.97,343.07 L446.02,344.95 L447.06,346.88 L448.11,348.85 L449.16,350.87 L450.20,352.93 L451.25,355.04 L452.30,357.19 L453.35,359.39 L454.39,361.63 L455.44,363.92 L456.49,366.25 L457.53,368.62 L458.58,371.04 L459.63,373.50 L460.68,376.00 L461.72,378.54 L462.77,381.13 L463.82,383.76 L464.86,386.43 L465.91,389.13 L466.96,391.88 L468.01,394.67 L469.05,397.50 L470.10,400.37 L471.15,403.28 L472.19,406.23 L473.24,409.22 L474.29,412.24 L475.34,415.31 L476.38,418.41 L477.43,421.55 L478.48,424.72 L479.52,427.94 L480.57,431.19 L481.62,434.47 L482.67,437.80 L483.71,441.15 L484.76,444.55 L485.81,447.98 L486.85,451.44 L487.90,454.94 L488.95,458.48 L490.00,462.05 L491.04,465.65 L492.09,469.29 L493.14,472.96 L494.18,476.67 L495.23,480.41 L496.28,484.18 L497.33,487.99 L498.37,491.82 L499.42,495.70 L500.47,499.60" stroke="#ff0000" stroke-dasharray="4.8 1.15 2.3 1.15"/>
<path d="M30.30,499.60 L31.30,499.36 L32.30,499.11 L33.31,498.87 L34.31,498.63 L35.31,498.38 L36.31,498.14 L37.31,497.90 L38.31,497.65 L39.32,497.41 L40.32,497.17 L41.32,496.92 L42.32,496.68 L43.32,496.44 L44.33,496.19 L45.33,495.95 L46.33,495.71 L47.33,495.46 L48.33,495.22 L49.34,494.98 L50.34,494.73 L51.34,494.49 L52.34,494.25 L53.34,494.00 L54.34,493.76 L55.35,493.52 L56.35,493.27 L57.35,493.03 L58.35,492.79 L59.35,492.54 L60.36,492.30 L61.36,492.06 L62.36,491.81 L63.36,491.57 L64.36,491.33 L65.36,491.08 L66.37,490.84 L67.37,490.60 L68.37,490.35 L69.37,490.11 L70.37,489.87 L71.38,489.62 L72.38,489.38 L73.38,489.13 L74.38,488.89 L75.38,488.65 L76.39,488.40 L77.39,488.16 L78.39,487.92 L79.39,487.67 L80.39,487.43 L81.39,487.19 L82.40,486.94 L83.40,486.70 L84.40,486.46 L85.40,486.21 L86.40,485.97 L87.41,485.73 L88.41,485.48 L89.41,485.24 L90.41,485.00 L91.41,484.75 L92.42,484.51 L93.42,484.27 L94.42,484.02 L95.42,483.78 L96.42,483.54 L97.42,483.29 L98.43,483.05 L99.43,482.81 L100.43,482.56 L101.43,482.32 L102.43,482.08 L103.44,481.83 L104.44,481.59 L105.44,481.35 L106.44,481.10 L107.44,480.86 L108.44,480.62 L109.45,480.37 L110.45,480.13 L111.45,479.89 L112.45,479.64 L113.45,479.40 L114.46,479.16 L115.46,478.91 L116.46,478.67 L117.46,478.43 L118.46,478.18 L119.47,477.94 L120.47,477.70 L121.47,477.45 L122.47,477.21 L123.47,476.97 L124.47,476.72 L125.48,476.48 L126.48,476.24 L127.48,475.99 L128.48,475.75 L129.48,475.51 L130.49,475.26 L131.49,475.02 L132.49,474.78 L133.49,474.53 L134.49,474.29 L135.49,474.05 L136.50,473.80 L137.50,473.56 L138.50,473.32 L139.50,473.07 L140.50,472.83 L141.51,472.59 L142.51,472.34 L143.51,472.10 L144.51,471.86 L145.51,471.61 L146.52,471.37 L147.52,471.13 L148.52,470.88 L149.52,470.64 L150.52,470.40 L151.52,470.15 L152.53,469.91 L153.53,469.67 L154.53,469.42 L155.53,469.18 L156.53,468.93 L157.54,468.69 L158.54,468.45 L159.54,468.20 L160.54,467.96 L161.54,467.72 L162.54,467.47 L163.55,467.23 L164.55,466.99 L165.55,466.74 L166.55,466.50 L167.55,466.26 L168.56,466.01 L169.56,465.77 L170.56,465.53 L171.56,465.29 L172.56,465.04 L173.57,464.80 L174.57,464.56 L175.57,464.31 L176.57,464.07 L177.57,463.83 L178.57,463.58 L179.58,463.34 L180.58,463.10 L181.58,462.86 L182.58,462.61 L183.58,462.37 L184.59,462.13 L185.59,461.89 L186.59,461.65 L187.59,461.41 L188.59,461.17 L189.59,460.93 L190.60,460.69 L191.60,460.45 L192.60,460.21 L193.60,459.98 L194.60,459.75 L195.61,459.52 L196.61,459.29 L197.61,459.06 L198.61,458.84 L199.61,458.62 L200.62,458.41 L201.62,458.20 L202.62,457.98 L203.62,457.77 L204.62,457.57 L205.62,457.37 L206.63,457.18 L207.63,456.99 L208.63,456.81 L209.63,456.64 L210.63,456.47 L211.64,456.32 L212.64,456.17 L213.64,456.04 L214.64,455.92 L215.64,455.81 L216.65,455.72 L217.65,455.64 L218.65,455.57 L219.65,455.52 L220.65,455.49 L221.65,455.48 L222.66,455.48 L223.66,455.50 L224.66,455.54 L225.66,455.60 L226.66,455.68 L227.67,455.78 L228.67,455.89 L229.67,456.03 L230.67,456.18 L231.67,456.36 L232.67,456.55 L233.68,456.76 L234.68,456.99 L235.68,457.24 L236.68,457.51 L237.68,457.79 L238.69,458.09 L239.69,458.41 L240.69,458.74 L241.69,459.09 L242.69,459.46 L243.70,459.84 L244.70,460.24 L245.70,460.65 L246.70,461.08 L247.70,461.52 L248.70,461.98 L249.71,462.45 L250.71,462.83 L251.71,462.66 L252.71,462.49 L253.71,462.33 L254.72,462.16 L255.72,461.99 L256.72,461.82 L257.72,461.66 L258.72,461.49 L259.72,461.32 L260.73,461.16 L261.73,460.99 L262.73,460.82 L263.73,460.65 L264.73,460.49 L265.74,460.32 L266.74,460.15 L267.74,459.99 L268.74,459.82 L269.74,459.65 L270.75,459.48 L271.75,459.32 L272.75,459.15 L273.75,458.98 L274.75,458.82 L275.75,458.65 L276.76,458.48 L277.76,458.31 L278.76,458.15 L279.76,457.98 L280.76,457.81 L281.77,457.65 L282.77,457.48 L283.77,457.31 L284.77,457.14 L285.77,456.98 L286.77,456.81 L287.78,456.64 L288.78,456.48 L289.78,456.31 L290.78,456.14 L291.78,455.98 L292.79,455.81 L293.79,455.64 L294.79,455.47 L295.79,455.31 L296.79,455.14 L297.80,454.97 L298.80,454.81 L299.80,454.64 L300.80,454.47 L301.80,454.31 L302.80,454.14 L303.81,453.97 L304.81,453.81 L305.81,453.64 L306.81,453.47 L307.81,453.31 L308.82,453.14 L309.82,452.97 L310.82,452.81 L311.82,452.64 L312.82,452.47 L313.83,452.31 L314.83,452.14 L315.83,451.97 L316.83,451.81 L317.83,451.64 L318.83,451.47 L319.84,451.31 L320.84,451.14 L321.84,450.97 L322.84,450.81 L323.84,450.64 L324.85,450.48 L325.85,450.31 L326.85,450.14 L327.85,449.98 L328.85,449.81 L329.85,449.65 L330.86,449.48 L331.86,449.32 L332.86,449.15 L333.86,448.98 L334.86,448.82 L335.87,448.65 L336.87,448.49 L337.87,448.32 L338.87,448.16 L339.87,448.00 L340.88,447.83 L341.88,447.67 L342.88,447.50 L343.88,447.34 L344.88,447.18 L345.88,447.01 L346.89,446.85 L347.89,446.69 L348.89,446.52 L349.89,446.36 L350.89,446.20 L351.90,446.04 L352.90,445.88 L353.90,445.71 L354.90,445.55 L355.90,445.39 L356.90,445.23 L357.91,445.07 L358.91,444.91 L359.91,444.76 L360.91,444.60 L361.91,444.44 L362.92,444.28 L363.92,444.13 L364.92,443.97 L365.92,443.82 L366.92,443.66 L367.93,443.51 L368.93,443.36 L369.93,443.20 L370.93,443.05 L371.93,442.90 L372.93,442.76 L373.94,442.61 L374.94,442.46 L375.94,442.32 L376.94,442.17 L377.94,442.03 L378.95,441.89 L379.95,441.75 L380.95,441.61 L381.95,441.48 L382.95,441.34 L383.95,441.21 L384.96,441.08 L385.96,440.95 L386.96,440.83 L387.96,440.70 L388.96,440.58 L389.97,440.47 L390.97,440.35 L391.97,440.24 L392.97,440.13 L393.97,440.03 L394.98,439.93 L395.98,439.83 L396.98,439.74 L397.98,439.65 L398.98,439.56 L399.98,439.49 L400.99,439.41 L401.99,439.34 L402.99,439.28 L403.99,439.22 L404.99,439.17 L406.00,439.13 L407.00,439.09 L408.00,439.06 L409.00,439.04 L410.00,439.03 L411.00,439.03 L412.01,439.03 L413.01,439.05 L414.01,439.07 L415.01,439.11 L416.01,439.15 L417.02,439.21 L418.02,439.28 L419.02,439.37 L420.02,439.46 L421.02,439.58 L422.03,439.70 L423.03,439.84 L424.03,440.00 L425.03,440.18 L426.03,440.37 L427.03,440.58 L428.04,440.81 L429.04,441.06 L430.04,441.34 L431.04,441.63 L432.04,441.95 L433.05,442.29 L434.05,442.65 L435.05,443.04 L436.05,443.46 L437.05,443.90 L438.06,444.37 L439.06,444.87 L440.06,445.40 L441.06,445.97 L442.06,446.56 L443.06,447.18 L444.07,447.84 L445.07,448.54 L446.07,449.27 L447.07,450.03 L448.07,450.84 L449.08,451.68 L450.08,452.56 L451.08,453.47 L452.08,454.43 L453.08,455.43 L454.08,456.48 L455.09,457.56 L456.09,458.69 L457.09,459.86 L458.09,461.07 L459.09,462.33 L460.10,463.63 L461.10,464.98 L462.10,466.38 L463.10,467.82 L464.10,469.31 L465.11,470.85 L466.11,472.43 L467.11,474.06 L468.11,475.74 L469.11,477.46 L470.11,479.24 L471.12,481.06 L472.12,482.93 L473.12,484.84 L474.12,486.81 L475.12,488.82 L476.13,490.88 L477.13,492.99 L478.13,495.15 L479.13,497.35 L480.13,499.60" stroke="#00ff00" stroke-dasharray="4.8 1.15 2.3 1.15"/>
<path d="M30.30,499.60 L31.30,499.36 L32.31,499.11 L33.31,498.87 L34.32,498.62 L35.32,498.38 L36.33,498.14 L37.33,497.89 L38.33,497.65 L39.34,497.40 L40.34,497.16 L41.35,496.92 L42.35,496.67 L43.36,496.43 L44.36,496.18 L45.36,495.94 L46.37,495.70 L47.37,495.45 L48.38,495.21 L49.38,494.96 L50.39,494.72 L51.39,494.48 L52.39,494.23 L53.40,493.99 L54.40,493.74 L55.41,493.50 L56.41,493.26 L57.42,493.01 L58.42,492.77 L59.43,492.52 L60.43,492.28 L61.43,492.04 L62.44,491.79 L63.44,491.55 L64.45,491.30 L65.45,491.06 L66.46,490.82 L67.46,490.57 L68.46,490.33 L69.47,490.09 L70.47,489.84 L71.48,489.60 L72.48,489.35 L73.49,489.11 L74.49,488.87 L75.49,488.62 L76.50,488.38 L77.50,488.13 L78.51,487.89 L79.51,487.65 L80.52,487.40 L81.52,487.16 L82.52,486.91 L83.53,486.67 L84.53,486.43 L85.54,486.18 L86.54,485.94 L87.55,485.69 L88.55,485.45 L89.55,485.21 L90.56,484.96 L91.56,484.72 L92.57,484.47 L93.57,484.23 L94.58,483.99 L95.58,483.74 L96.58,483.50 L97.59,483.25 L98.59,483.01 L99.60,482.77 L100.60,482.52 L101.61,482.28 L102.61,482.03 L103.61,481.79 L104.62,481.55 L105.62,481.30 L106.63,481.06 L107.63,480.81 L108.64,480.57 L109.64,480.33 L110.65,480.08 L111.65,479.84 L112.65,479.59 L113.66,479.35 L114.66,479.11 L115.67,478.86 L116.67,478.62 L117.68,478.37 L118.68,478.13 L119.68,477.89 L120.69,477.64 L121.69,477.40 L122.70,477.15 L123.70,476.91 L124.71,476.67 L125.71,476.42 L126.71,476.18 L127.72,475.93 L128.72,475.69 L129.73,475.45 L130.73,475.20 L131.74,474.96 L132.74,474.71 L133.74,474.47 L134.75,474.23 L135.75,473.98 L136.76,473.74 L137.76,473.50 L138.77,473.25 L139.77,473.01 L140.77,472.76 L141.78,472.52 L142.78,472.28 L143.79,472.03 L144.79,471.79 L145.80,471.54 L146.80,471.30 L147.80,471.06 L148.81,470.81 L149.81,470.57 L150.82,470.32 L151.82,470.08 L152.83,469.84 L153.83,469.59 L154.83,469.35 L155.84,469.10 L156.84,468.86 L157.85,468.62 L158.85,468.37 L159.86,468.13 L160.86,467.88 L161.86,467.64 L162.87,467.40 L163.87,467.15 L164.88,466.91 L165.88,466.66 L166.89,466.42 L167.89,466.18 L168.90,465.93 L169.90,465.69 L170.90,465.44 L171.91,465.20 L172.91,464.96 L173.92,464.71 L174.92,464.47 L175.93,464.23 L176.93,463.98 L177.93,463.74 L178.94,463.50 L179.94,463.25 L180.95,463.01 L181.95,462.77 L182.96,462.52 L183.96,462.28 L184.96,462.04 L185.97,461.80 L186.97,461.55 L187.98,461.31 L188.98,461.07 L189.99,460.83 L190.99,460.60 L191.99,460.36 L193.00,460.12 L194.00,459.89 L195.01,459.65 L196.01,459.42 L197.02,459.20 L198.02,458.97 L199.02,458.75 L200.03,458.53 L201.03,458.32 L202.04,458.12 L203.04,457.92 L204.05,457.74 L205.05,457.56 L206.05,457.40 L207.06,457.25 L208.06,457.11 L209.07,457.00 L210.07,456.90 L211.08,456.83 L212.08,456.79 L213.08,456.77 L214.09,456.79 L215.09,456.84 L216.10,456.93 L217.10,457.05 L218.11,457.21 L219.11,457.41 L220.12,457.65 L221.12,457.93 L222.12,458.25 L223.13,458.62 L224.13,459.02 L225.14,459.46 L226.14,459.94 L227.15,460.46 L228.15,461.01 L229.15,461.60 L230.16,462.22 L231.16,462.87 L232.17,463.56 L233.17,464.28 L234.18,465.03 L235.18,465.42 L236.18,465.25 L237.19,465.08 L238.19,464.91 L239.20,464.75 L240.20,464.58 L241.21,464.41 L242.21,464.24 L243.21,464.08 L244.22,463.91 L245.22,463.74 L246.23,463.57 L247.23,463.41 L248.24,463.24 L249.24,463.07 L250.24,462.90 L251.25,462.74 L252.25,462.57 L253.26,462.40 L254.26,462.23 L255.27,462.07 L256.27,461.90 L257.27,461.73 L258.28,461.56 L259.28,461.40 L260.29,461.23 L261.29,461.06 L262.30,460.89 L263.30,460.73 L264.30,460.56 L265.31,460.39 L266.31,460.22 L267.32,460.06 L268.32,459.89 L269.33,459.72 L270.33,459.55 L271.34,459.39 L272.34,459.22 L273.34,459.05 L274.35,458.88 L275.35,458.71 L276.36,458.55 L277.36,458.38 L278.37,458.21 L279.37,458.04 L280.37,457.88 L281.38,457.71 L282.38,457.54 L283.39,457.37 L284.39,457.21 L285.40,457.04 L286.40,456.87 L287.40,456.70 L288.41,456.54 L289.41,456.37 L290.42,456.20 L291.42,456.03 L292.43,455.87 L293.43,455.70 L294.43,455.53 L295.44,455.36 L296.44,455.20 L297.45,455.03 L298.45,454.86 L299.46,454.69 L300.46,454.53 L301.46,454.36 L302.47,454.19 L303.47,454.02 L304.48,453.86 L305.48,453.69 L306.49,453.52 L307.49,453.35 L308.49,453.19 L309.50,453.02 L310.50,452.85 L311.51,452.68 L312.51,452.52 L313.52,452.35 L314.52,452.18 L315.52,452.01 L316.53,451.84 L317.53,451.68 L318.54,451.51 L319.54,451.34 L320.55,451.17 L321.55,451.01 L322.56,450.84 L323.56,450.67 L324.56,450.50 L325.57,450.34 L326.57,450.17 L327.58,450.00 L328.58,449.83 L329.59,449.67 L330.59,449.50 L331.59,449.33 L332.60,449.16 L333.60,449.00 L334.61,448.83 L335.61,448.66 L336.62,448.49 L337.62,448.33 L338.62,448.16 L339.63,447.99 L340.63,447.83 L341.64,447.66 L342.64,447.49 L343.65,447.32 L344.65,447.16 L345.65,446.99 L346.66,446.82 L347.66,446.65 L348.67,446.49 L349.67,446.32 L350.68,446.15 L351.68,445.99 L352.68,445.82 L353.69,445.65 L354.69,445.48 L355.70,445.32 L356.70,445.15 L357.71,444.98 L358.71,444.82 L359.71,444.65 L360.72,444.48 L361.72,444.32 L362.73,444.15 L363.73,443.99 L364.74,443.82 L365.74,443.65 L366.74,443.49 L367.75,443.32 L368.75,443.16 L369.76,442.99 L370.76,442.83 L371.77,442.66 L372.77,442.50 L373.77,442.33 L374.78,442.17 L375.78,442.00 L376.79,441.84 L377.79,441.68 L378.80,441.52 L379.80,441.35 L380.81,441.19 L381.81,441.03 L382.81,440.87 L383.82,440.71 L384.82,440.55 L385.83,440.39 L386.83,440.24 L387.84,440.08 L388.84,439.92 L389.84,439.77 L390.85,439.62 L391.85,439.46 L392.86,439.31 L393.86,439.16 L394.87,439.02 L395.87,438.87 L396.87,438.73 L397.88,438.59 L398.88,438.45 L399.89,438.31 L400.89,438.18 L401.90,438.05 L402.90,437.92 L403.90,437.79 L404.91,437.67 L405.91,437.56 L406.92,437.45 L407.92,437.34 L408.93,437.24 L409.93,437.14 L410.93,437.06 L411.94,436.97 L412.94,436.90 L413.95,436.83 L414.95,436.77 L415.96,436.72 L416.96,436.69 L417.96,436.66 L418.97,436.64 L419.97,436.64 L420.98,436.65 L421.98,436.67 L422.99,436.71 L423.99,436.76 L424.99,436.84 L426.00,436.93 L427.00,437.04 L428.01,437.17 L429.01,437.33 L430.02,437.51 L431.02,437.71 L432.03,437.94 L433.03,438.20 L434.03,438.49 L435.04,438.80 L436.04,439.15 L437.05,439.54 L438.05,439.96 L439.06,440.41 L440.06,440.90 L441.06,441.43 L442.07,442.00 L443.07,442.62 L444.08,443.27 L445.08,443.97 L446.09,444.71 L447.09,445.49 L448.09,446.33 L449.10,447.20 L450.10,448.13 L451.11,449.10 L452.11,450.12 L453.12,451.19 L454.12,452.30 L455.12,453.47 L456.13,454.68 L457.13,455.94 L458.14,457.24 L459.14,458.60 L460.15,460.00 L461.15,461.45 L462.15,462.95 L463.16,464.49 L464.16,466.08 L465.17,467.72 L466.17,469.40 L467.18,471.12 L468.18,472.89 L469.18,474.70 L470.19,476.55 L471.19,478.45 L472.20,480.39 L473.20,482.37 L474.21,484.39 L475.21,486.44 L476.21,488.54 L477.22,490.68 L478.22,492.85 L479.23,495.07 L480.23,497.31 L481.24,499.60" stroke="#0000ff" stroke-dasharray="4.8 1.15 2.3 1.15"/>
</g></g>
<g stroke="#8c8c8c" stroke-width="1" fill="none">
<path d="M503.5,289.5 H30.5" stroke="#a6a6a6"/>
<path d="M30.5,289.0 V499.5" stroke="#9a9a9a"/>
<path d="M30.0,499.5 H503.5" stroke="#7c7c7c"/>
<path d="M82.84,499.5 v-4.8 M82.84,289.5 v4.8 M135.39,499.5 v-4.8 M135.39,289.5 v4.8 M187.93,499.5 v-4.8 M187.93,289.5 v4.8 M240.48,499.5 v-4.8 M240.48,289.5 v4.8 M293.02,499.5 v-4.8 M293.02,289.5 v4.8 M345.57,499.5 v-4.8 M345.57,289.5 v4.8 M398.11,499.5 v-4.8 M398.11,289.5 v4.8 M450.66,499.5 v-4.8 M450.66,289.5 v4.8 M30.5,476.22 h4.8 M30.5,452.84 h4.8 M30.5,429.47 h4.8 M30.5,406.09 h4.8 M30.5,382.71 h4.8 M30.5,359.33 h4.8 M30.5,335.96 h4.8 M30.5,312.58 h4.8" stroke="#909090"/>
</g>
<g stroke="#93c7db" stroke-width="1" fill="none">
<path d="M503.5,289.0 V500.0 M503.5,464.53 h-4.8 M503.5,429.47 h-4.8 M503.5,394.40 h-4.8 M503.5,359.33 h-4.8 M503.5,324.27 h-4.8"/>
</g>
<g font-family='"Liberation Sans", Arial, Helvetica, sans-serif' font-size="6.3" fill="#2a2a2a">
<text x="30.30" y="509.00" text-anchor="middle">0</text>
<text x="82.84" y="509.00" text-anchor="middle">10</text>
<text x="135.39" y="509.00" text-anchor="middle">20</text>
<text x="187.93" y="509.00" text-anchor="middle">30</text>
<text x="240.48" y="509.00" text-anchor="middle">40</text>
<text x="293.02" y="509.00" text-anchor="middle">50</text>
<text x="345.57" y="509.00" text-anchor="middle">60</text>
<text x="398.11" y="509.00" text-anchor="middle">70</text>
<text x="450.66" y="509.00" text-anchor="middle">80</text>
<text x="503.20" y="509.00" text-anchor="middle">90</text>
<text x="27.10" y="502.27" text-anchor="end">0</text>
<text x="27.10" y="478.89" text-anchor="end">5</text>
<text x="27.10" y="455.51" text-anchor="end">10</text>
<text x="27.10" y="432.13" text-anchor="end">15</text>
<text x="27.10" y="408.76" text-anchor="end">20</text>
<text x="27.10" y="385.38" text-anchor="end">25</text>
<text x="27.10" y="362.00" text-anchor="end">30</text>
<text x="27.10" y="338.62" text-anchor="end">35</text>
<text x="27.10" y="315.25" text-anchor="end">40</text>
<text x="27.10" y="291.87" text-anchor="end">45</text>
</g>
<g font-family='"Liberation Sans", Arial, Helvetica, sans-serif' font-size="6.05" fill="#1c8ac4" stroke="#1c8ac4" stroke-width="0.18">
<text x="506.40" y="502.27">0</text>
<text x="506.40" y="467.20">500</text>
<text x="506.40" y="432.13">1000</text>
<text x="506.40" y="397.07">1500</text>
<text x="506.40" y="362.00">2000</text>
<text x="506.40" y="326.93">2500</text>
<text x="506.40" y="291.87">3000</text>
</g>
<text x="268.6" y="524.3" font-family='"Liberation Sans", Arial, Helvetica, sans-serif' font-size="8.9" fill="#333" text-anchor="middle">Voltage (V)</text>
<text transform="translate(16.2,394) rotate(-90)" font-family='"Liberation Sans", Arial, Helvetica, sans-serif' font-size="8.9" fill="#333" text-anchor="middle">Current (A)</text>
<text transform="translate(531.8,394.7) rotate(-90)" font-family='"Liberation Sans", Arial, Helvetica, sans-serif' font-size="8.9" fill="#1c8ac4" stroke="#1c8ac4" stroke-width="0.3" text-anchor="middle">Power (W)</text>
<text x="266.7" y="285.2" font-family='"Liberation Sans", Arial, Helvetica, sans-serif' font-size="10.1" font-weight="bold" fill="#111" text-anchor="middle">Nine shaded modules</text>
<text x="272.1" y="538.0" font-family='"Liberation Serif", "Times New Roman", serif' font-size="11.5" font-weight="bold" fill="#111" text-anchor="middle">(i)</text>
<rect x="39.9" y="321.5" width="164.7" height="31.80000000000001" fill="#fff" stroke="#9a9a9a" stroke-width="1"/>
<g font-family='"Liberation Sans", Arial, Helvetica, sans-serif' font-size="7.45" fill="#000" stroke-width="1.2000000000000002">
<path d="M41.9,327.70 H60.5" stroke="#ff0000" fill="none"/>
<text x="62.6" y="330.38">I-V Case 0</text>
<path d="M122.6,327.70 H141.3" stroke="#ff0000" fill="none" stroke-dasharray="4.8 1.15 2.3 1.15"/>
<text x="143.1" y="330.38">P-V Case 0</text>
<path d="M41.9,337.90 H60.5" stroke="#00ff00" fill="none"/>
<text x="62.6" y="340.58">I-V Case 32,SP</text>
<path d="M122.6,337.90 H141.3" stroke="#00ff00" fill="none" stroke-dasharray="4.8 1.15 2.3 1.15"/>
<text x="143.1" y="340.58">P-V Case 32,SP</text>
<path d="M41.9,348.10 H60.5" stroke="#0000ff" fill="none"/>
<text x="62.6" y="350.78">I-V Case 32,TCT</text>
<path d="M122.6,348.10 H141.3" stroke="#0000ff" fill="none" stroke-dasharray="4.8 1.15 2.3 1.15"/>
<text x="143.1" y="350.78">P-V Case 32,TCT</text>
</g>
</g>
</svg>
</body></html>
